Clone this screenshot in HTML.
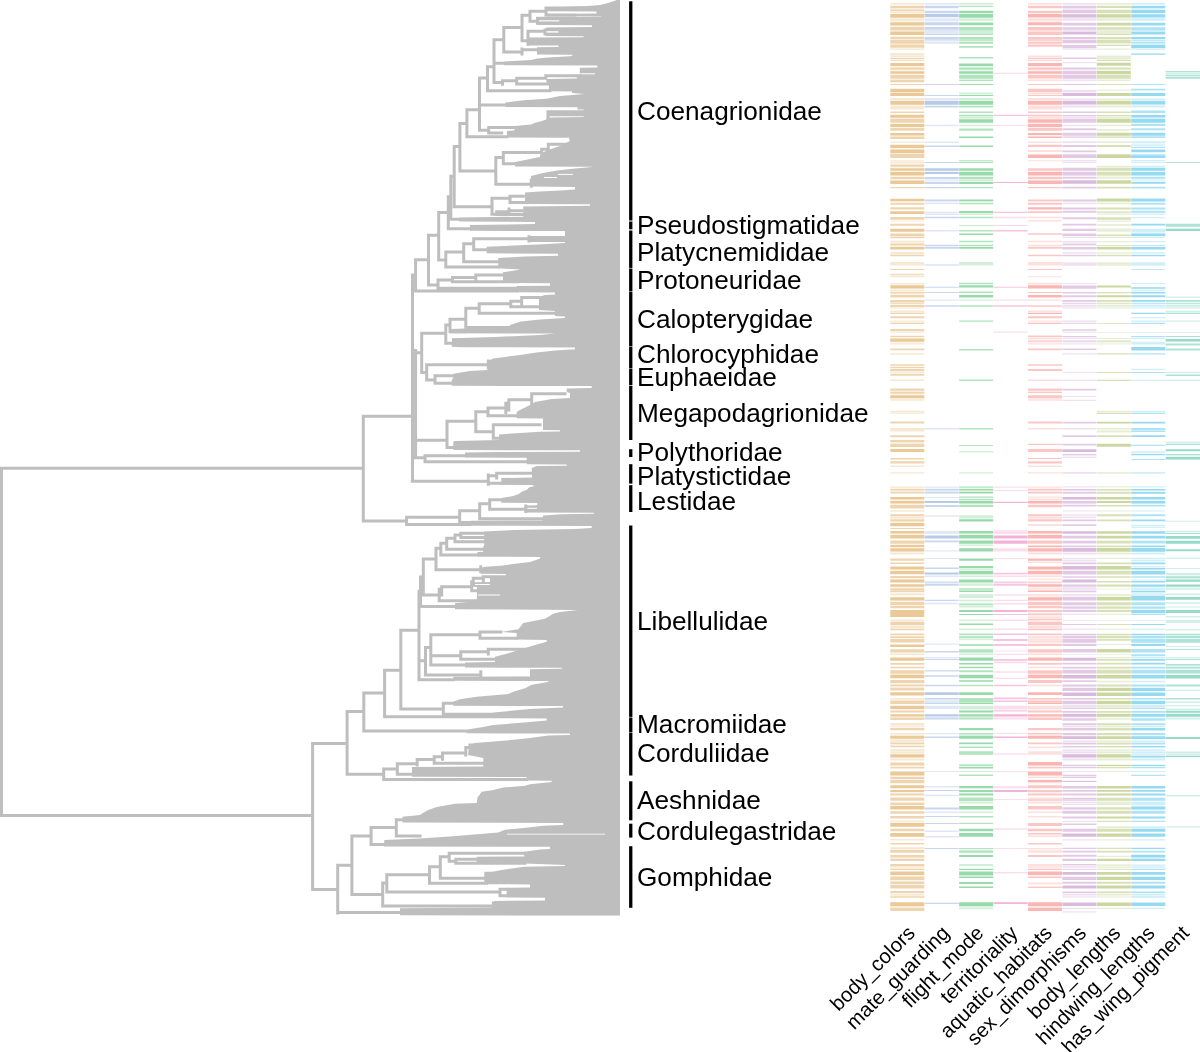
<!DOCTYPE html><html><head><meta charset="utf-8"><style>html,body{margin:0;padding:0;background:#fff;}svg{display:block;}text{font-family:"Liberation Sans",sans-serif;}</style></head><body><svg width="1200" height="1052" viewBox="0 0 1200 1052"><rect width="1200" height="1052" fill="#fff"/><polygon points="620,0 617,0 608,3 600,5 588,6 582,6.3 546,7.5 546,11.2 596.5,11.4 596.5,13.6 575,13.8 575,16.2 601,16.4 601,17.5 537.5,17.8 537.5,25 592,25.3 592,27 546,27.5 546,36 583.6,36.2 583.6,37.2 527.4,37.4 527.4,45.4 558.5,45.6 558.5,47.1 537,47.3 537,54.6 572.2,54.8 572.2,55.9 566,56.5 548,57.4 537.3,58.5 531.2,60 503.8,61.6 503.8,65.3 597.3,65.5 597.3,67.6 579.8,67.8 579.8,75.2 546.4,75.4 546.4,76.5 576.8,77 576.8,78.6 546.4,79 546.4,85.1 549,85.3 549,91.2 572,91.4 572,93 584.4,94 560,96 546.4,98.8 523.6,100.3 517.5,101 505.3,102.6 505.3,107.1 577.5,107.3 577.5,109.4 583.6,109.6 583.6,117 549.4,117.5 547.9,118.5 544.9,120.1 540.3,121.6 534.2,123.1 531.2,124.6 514.5,126.1 514.5,130.5 506.9,131 506.9,137.5 569.2,137.7 569.2,139.2 570,141 560,146 548,150 541.7,153 540,157 515,162 515,166.5 591.7,166.7 592,167 575,168.5 557,170.5 543,173 531,176 531,186.5 575,187 575,189.5 560,190.5 540,191.5 525,192.5 525,204 590,204.2 590,205.8 523.3,206.5 523.3,216.7 459.2,217.5 459.2,221.5 535,222 535,224 470,225 470,230.8 565,231 565,243 543,244.2 486.7,246.7 486.7,253.3 558,253.7 558,255.8 525,256.5 498.3,258 498.3,268.3 520,269.5 518,270 503,272.2 503,280.8 518,281.2 518,283 550,283.3 550,285.8 516.7,286 516.7,292.3 555,292.5 555,294.5 545,295 539,297 539,310 555,311 555,316 565,316.5 565,318 540,319.5 521,321.5 510,325 510,327 465.8,327.3 465.8,328.5 450,329 450,333.3 555,333.5 540,335 495,337 452,338.3 451.7,346.7 460,347.2 575,347.5 575,349.2 555,350.5 536.7,352.5 520,355 505,357 493,358.5 488.3,361 488.3,370 470,371 453.3,373.7 453.3,378.3 451.7,380 451.7,385.8 591.7,386 591.7,388 566.7,388.5 566.7,392 570,393 570,398 551.7,399 535,402 530,405 520,410 516.7,412 516.7,418.3 543,418.5 543,430 560,430.3 560,431.5 540,431.7 520,433 499,434.5 499,440 455,441 453.3,441.7 453.3,450 580,450.3 580,451.8 500,452 465,452.5 465,457.5 526.7,457.8 526.7,464.2 566.7,464.5 566.7,465.8 536.7,466 531.7,468 532,477.5 501.3,478 501.3,484.7 532,485 534.7,486 529.3,487.3 526.7,490 522.7,491.3 518.7,494 513.3,496 501.3,498 501.3,502.7 537.3,503 537.3,505.3 525.3,505.6 525.3,512.5 594,512.7 594,513.8 561.7,514.3 543.3,515.5 542.7,517 542.7,520.5 470.7,520.7 470.7,525.8 591.7,526 591.7,528 575,529 515,530 484.2,531.5 484.2,545.8 483.3,546 483.3,551.7 477.5,552 477.5,556.7 540,557 540,558.5 536,560 530,562 513,564 503,565.5 483,567 481,570 481,573.8 506,574 506,576.6 490,577 490,582 473.3,582.2 473.3,586.7 477,587 477,600 478.3,601 455,603.3 455,609.2 550,609.7 578,610 560,612 553.3,613.7 545,618.7 523.3,623 518.3,629.2 500.8,632 516.7,633 516.7,639.5 546.7,640 546.7,641.7 535,645 508.3,653.3 495,656.7 495,662 465,662.5 465,667.5 561.7,667.8 561.7,668.7 530,669.2 530,676.5 453.3,676.7 453.3,680.8 548.3,681 548.3,682 531.7,684.7 525,688.3 513.3,691.7 508.3,694 476.7,696.7 460,699.2 453.3,701.7 453.3,705.8 563,706 563,707.5 530,709 493.3,712.5 493.3,718.3 546.7,718.5 546.7,720.5 530,722 493.3,725 483.3,727 470,729 466.7,730 466.7,733.3 570,733.5 570,735 548.3,735.5 528.3,738.3 503.3,740.8 475,743 470,745 468,755 483.3,758 483.3,766.5 412,767 412,776.7 526.7,777 526.7,780.5 551.7,780.8 551.7,782 530,784.2 525,785.8 503.3,787.5 493.3,790 481.7,791.7 477.5,797.5 476.7,803 455,803.7 436.7,807 428.3,810 422.5,813.3 420,815 402.5,816.7 402.5,822.5 563.3,823 563.3,825 543.3,825.8 528.3,827.5 505,829.7 498.3,832.5 450,836.5 420,838.5 384.4,840 383.7,846.5 550,846.8 550,849 540,849.5 524.2,851.7 524.2,856.5 476.7,856.7 476.7,862.5 525,863.5 565,865 565,866 524.2,866.7 501.7,870 485.8,873.3 485.8,884.2 530,884.5 530,887.5 506.7,887.8 506.7,897.5 545,897.8 545,900.5 494,901 494,907.5 400,908.3 400,915.3 620,915.5 620,915.5" fill="#bebebe"/><path d="M546 31.9H558.5" stroke="#fff" stroke-width="1.4"/><path d="M538.8 20.9H559.3" stroke="#fff" stroke-width="1.3"/><path d="M580 73.8H595" stroke="#fff" stroke-width="1"/><path d="M558 174.4H573" stroke="#fff" stroke-width="1"/><path d="M544 177.5H557" stroke="#fff" stroke-width="1"/><path d="M478 590.5H505" stroke="#fff" stroke-width="1"/><path d="M478 595H500" stroke="#fff" stroke-width="1"/><path d="M475 584.5H490" stroke="#fff" stroke-width="1"/><path d="M507 834.2H605" stroke="#fff" stroke-width="0.8"/><path d="M527 508.3H537" stroke="#fff" stroke-width="1"/><path d="M1.5 468.2H363.3M1.5 815.5H312.6M1.5 468.2V815.5M363.3 416.2V520.9M363.3 416.2H412.3M363.3 520.9H406.6M406.6 517.2V524.5M406.6 517.2H459.7M406.6 524.5H470M459.7 510.8V522.5M459.7 510.8H479.7M479.7 503.7V518.7M479.7 503.7H489.7M489.7 499.7V509.2M489.7 499.7H500.8M489.7 509.2H525.8M525.8 506V511.5M479.7 518.7H543.3M459.7 522.5H470M412.5 275.1V481.3M415.6 350.6V457.7M412.3 481.3H488.3M488.3 475V484.2M488.3 475.8H496.7M496.7 473.3V478M496.7 473.3H531.7M488.3 483.3H531.7M415.2 457.7H425M425 455.8V461.7M425 455.8H465M425 461.7H526.7M415.8 440.2H446.7M447 421.3V447.5M447 447.5H455M447 421.3H475.8M475.8 411.7V431.7M475.8 411.7H488M488 408V415.8M488 408H505.8M505.8 403.3V412.5M505.8 403.3H508.8M508.8 399.7V410M508.8 399.7H531.7M531.7 393.7V406.7M531.7 393.7H565M531.7 406.7H551.7M488 415.8H525M475.8 431.7H493.3M493.3 424.7V438.3M493.3 424.7H540M493.3 438.3H499.2M415.6 352.8H421.7M421.7 333.3V372.5M421.7 333.3H445.8M445.8 325V343.3M445.8 325H450M450 319.2V331.7M450 319.2H465.8M465.8 308.3V327.5M465.8 308.3H479.2M479.2 303.7V313.3M479.2 303.7H510.8M510.8 301.3V306.7M510.8 301.3H521.7M521.7 297.5V303.7M521.7 297.5H539.2M510.8 306.7H545M479.2 313.3H555M465.8 327.5H510M450 331.7H465M445.8 343.3H451.7M421.7 372.5H426.7M426.7 364.7V380M426.7 364.7H488.3M488.3 361V368M426.7 380H435M435 375.8V383.3M435 375.8H453.3M435 383.3H451.7M415.6 259.8V291.1M412.5 275.1H415.6M415.6 259.8H428.5M415.6 291.1H516.7M428.5 235.3V285M428.5 285H438M438 280V288.3M438 280H452.5M452.5 277.5V281.7M452.5 277.5H475.8M475.8 275V279M475.8 275H503.3M452.5 281.7H518M438 288.3H516.7M428.5 235.3H438.7M438.7 212.5V260M438.7 212.5H448.3M448.3 196.7V228.7M448.3 196.7H450.8M448.3 228.7H470M450.8 176.3V219.2M450.8 176.6H454.2M450.8 219.2H459.2M454.2 146.6V206.8M454.2 146.6H459.9M454.2 206.8H492M492 198.3V214.2M492 198.3H510M510 196.3V202.5M510 196.3H523.3M510 202.5H525M492 214.2H496.7M496.7 211.7V214.2M496.7 211.7H509M509 210.7H525M496.7 214.5H525M509 209V213.3M438.7 260H445.8M445.8 252V267M445.8 252H463.7M463.7 243.7V261.7M463.7 243.7H473.7M473.7 238.7V249.7M473.7 238.7H529.2M529.2 236.7V241M473.7 249.7H486.7M463.7 261.7H498.3M445.8 267H498.3M459.9 123.6V171.1M459.9 123.6H466.9M459.9 171.1H495.8M495.8 157.5V184.2M495.8 157.5H503.3M503.3 152.5V163.7M503.3 152.5H541.7M541.7 149.2V157.5M541.7 149.2H548.3M548.3 144.2V150M548.3 144.2H570M541.7 157.5H545M503.3 163.7H515M495.8 184.2H531.3M531.3 180V186.3M466.9 109.8V136.8M466.9 109.8H479.5M466.9 136.8H507M479.5 78V130.3M479.5 105H504.2M479.5 130.3H488.7M488.7 127.5V133M488.7 127.5H515M488.7 133H501.7M479.5 78H487.5M487.5 66.7V90.8M487.5 90.8H550M487.5 66.7H494M494 39.7V82.5M494 82.5H502.5M502.5 80.8V84.2M502.5 80.8H516.7M516.7 78.3V84M516.7 78.3H545.8M516.7 84H560M545.8 75.8V78.3M545.8 75.8H580M494 63.3H502.5M494 39.7H503.8M503.8 27.5V52M503.8 52H522M522 49V54M522 49.7H536.7M503.8 27.5H522M522 15.3V40.8M522 40.8H528M528 31.3V44.2M528 31.3H545M545 30V34M522 15.3H530M530 11.3V21.3M530 21.3H537.5M537.5 18.7V23.3M537.5 23.3H559M530 11.3H546M546 8V15M546 8H581.7M546 15H575M312.6 743.5V889.4M312.6 743.5H347.1M347.1 711.5V774.3M347.1 711.5H363.8M363.8 693.1V731M363.8 693.1H384.6M384.6 670.3V716.7M384.6 670.3H400.8M400.8 630.3V709M400.8 630.3H419M419 591.3V679.8M420.5 577V606.6M423.3 559V595.1M420.5 577H423.3M419 591.5H420.5M420.5 606.6H455M423.3 559H436M436 548.3V569.7M436 548.3H440.8M440.8 543.3V555M440.8 543.3H446.7M446.7 538.3V549.2M446.7 538.3H455M455 535V541.7M455 535H460.8M460.8 533.3V537.5M460.8 533.3H484.2M460.8 537.5H484.2M455 541.7H485.8M446.7 549.2H483.3M440.8 555H477.5M436 569.7H480.8M480.8 566.7V571.7M423.3 595.1H439.2M439.2 589.2V600.8M439.2 589.2H441.7M441.7 586.7V595M441.7 586.7H471.7M471.7 581.7V590.8M471.7 581.7H473.3M473.3 578.3V585M473.3 578.3H483.3M483.3 576.7V581.7M483.3 576.7H505M471.7 590.8H506.7M439.2 600.8H478.3M478.3 598V603M419 660.8H425.5M425.5 647.5V675M425.5 647.5H430.8M430.8 634.7V665M430.8 634.7H480M480 632V638.3M480 632H500.8M480 638.3H516.7M430.8 655.8H460.8M460.8 651.7V659.2M460.8 651.7H488.3M488.3 649.2V654M488.3 649.2H535M460.8 659.2H495M430.8 665H465M425.5 675H480.8M480.8 671.7V676M419 679.8H453.3M400.8 709H443.3M443.3 703.3V714.2M443.3 703.3H453.3M443.3 714.2H493.3M384.6 716.7H493.3M363.8 731H466.7M347.1 774.3H383.7M383.7 769V779.5M383.7 769H397.3M397.3 763.8V774.3M397.3 763.8H417.2M417.2 759.6V765M417.2 759.6H434.2M434.2 756.7V763.3M434.2 756.7H442.5M442.5 753V759.2M442.5 753H465.8M465.8 747.5V755M465.8 747.5H470M470 745V752M470 745H503.3M434.2 763.3H483.3M397.3 774.3H412M383.7 779.5H526.7M312.6 889.4H337.7M337.7 865.3V913M337.7 912.5H400M337.7 865.3H351.9M351.9 836V894.6M351.9 836H371.1M371.1 827.6V844.4M371.1 827.6H396.3M396.3 819.7V836M396.3 819.7H402.5M396.3 836H420M371.1 844.4H383.7M351.9 894.6H382.7M382.7 883.1V906.1M382.7 883.1H386.8M386.8 874.7V892.1M386.8 874.7H429.5M429.5 866.7V883.3M429.5 866.7H440.3M440.3 856.7V878.3M440.3 856.7H449.2M449.2 853.3V861.3M449.2 853.3H524.2M449.2 861.3H455.8M455.8 859.2V863.3M455.8 859.2H476.7M455.8 863.3H525M440.3 878.3H485.8M485.8 873.3V883.3M485.8 873.3H501.7M429.5 883.3H486.7M386.8 892.1H500M500 889.2V895.8M500 889.2H506.7M500 895.8H506.7M382.7 906.1H493.3M493.3 903V907M493.3 903H545M548 111.7H583.6M549.4 114.7H583.6M548 111.7V118M537.5 18.2H600M529 237.6H566M529 240.6H566M529 236.7V241" stroke="#bebebe" stroke-width="3" fill="none" stroke-linecap="square"/><path d="M890.30 4.5h34.00v1.40h-34.00zM890.30 8.2h34.00v1.40h-34.00zM890.30 11.1h34.00v0.50h-34.00zM890.30 13h34.00v1.10h-34.00zM890.30 17.8h34.00v0.70h-34.00zM890.30 20.8h34.00v1.50h-34.00zM890.30 25.5h34.00v1.50h-34.00zM890.30 30.4h34.00v1.20h-34.00zM890.30 38.9h34.00v0.90h-34.00zM890.30 43.8h34.00v0.70h-34.00zM890.30 47.8h34.00v0.90h-34.00zM890.30 54.6h34.00v1.00h-34.00zM890.30 57.1h34.00v0.80h-34.00zM890.30 59h34.00v1.00h-34.00zM890.30 66h34.00v1.50h-34.00zM890.30 69.7h34.00v1.50h-34.00zM890.30 73.7h34.00v1.20h-34.00zM890.30 78.7h34.00v1.10h-34.00zM890.30 92.1h34.00v0.70h-34.00zM890.30 100.3h34.00v0.70h-34.00zM890.30 104.7h34.00v1.20h-34.00zM890.30 117.8h34.00v1.00h-34.00zM890.30 122.8h34.00v1.20h-34.00zM890.30 127h34.00v1.10h-34.00zM890.30 135.6h34.00v1.00h-34.00zM890.30 148h34.00v1.50h-34.00zM890.30 152.9h34.00v0.80h-34.00zM890.30 161.2h34.00v0.70h-34.00zM890.30 163.1h34.00v1.50h-34.00zM890.30 166.7h34.00v1.50h-34.00zM890.30 170.8h34.00v1.20h-34.00zM890.30 175.6h34.00v1.50h-34.00zM890.30 179h34.00v1.50h-34.00zM890.30 201.3h34.00v1.60h-34.00zM890.30 219.8h34.00v1.20h-34.00zM890.30 235.5h34.00v1.20h-34.00zM890.30 242.2h34.00v1.40h-34.00zM890.30 245.6h34.00v1.50h-34.00zM890.30 254h34.00v0.80h-34.00zM890.30 274.8h34.00v0.70h-34.00zM890.30 284.1h34.00v1.10h-34.00zM890.30 288.6h34.00v1.50h-34.00zM890.30 291.1h34.00v0.80h-34.00zM890.30 293.6h34.00v1.50h-34.00zM890.30 302h34.00v0.50h-34.00zM890.30 303.7h34.00v1.20h-34.00zM890.30 307h34.00v0.40h-34.00zM890.30 311.9h34.00v0.80h-34.00zM890.30 321.6h34.00v1.20h-34.00zM890.30 331h34.00v0.70h-34.00zM890.30 336.9h34.00v1.50h-34.00zM890.30 341.7h34.00v1.50h-34.00zM890.30 365.7h34.00v1.20h-34.00zM890.30 367.9h34.00v1.20h-34.00zM890.30 370.9h34.00v0.90h-34.00zM890.30 372.8h34.00v1.20h-34.00zM890.30 390.7h34.00v1.10h-34.00zM890.30 393.7h34.00v1.50h-34.00zM890.30 398.2h34.00v1.00h-34.00zM890.30 412h34.00v0.60h-34.00zM890.30 442.2h34.00v1.50h-34.00zM890.30 487.7h34.00v1.40h-34.00zM890.30 490.6h34.00v1.10h-34.00zM890.30 499.5h34.00v1.40h-34.00zM890.30 503.6h34.00v1.50h-34.00zM890.30 516.2h34.00v0.80h-34.00zM890.30 518.4h34.00v0.80h-34.00zM890.30 521.4h34.00v1.50h-34.00zM890.30 533.6h34.00v1.50h-34.00zM890.30 543.7h34.00v1.20h-34.00zM890.30 546.7h34.00v1.50h-34.00zM890.30 551.6h34.00v1.10h-34.00zM890.30 569.4h34.00v1.50h-34.00zM890.30 577.9h34.00v1.50h-34.00zM890.30 586.8h34.00v1.50h-34.00zM890.30 590.2h34.00v0.30h-34.00zM890.30 592h34.00v1.50h-34.00zM890.30 600.6h34.00v1.50h-34.00zM890.30 605.1h34.00v1.00h-34.00zM890.30 620.9h34.00v0.80h-34.00zM890.30 624.7h34.00v1.10h-34.00zM890.30 628.2h34.00v0.50h-34.00zM890.30 635.1h34.00v1.10h-34.00zM890.30 638.1h34.00v1.00h-34.00zM890.30 652.5h34.00v1.20h-34.00zM890.30 673.7h34.00v1.00h-34.00zM890.30 683.1h34.00v1.40h-34.00zM890.30 686.3h34.00v1.50h-34.00zM890.30 699.4h34.00v1.00h-34.00zM890.30 709.1h34.00v1.50h-34.00zM890.30 716.5h34.00v1.10h-34.00zM890.30 725h34.00v0.40h-34.00zM890.30 726.5h34.00v1.50h-34.00zM890.30 734.6h34.00v1.20h-34.00zM890.30 738.8h34.00v1.00h-34.00zM890.30 741.8h34.00v0.60h-34.00zM890.30 744.3h34.00v1.50h-34.00zM890.30 751.3h34.00v0.40h-34.00zM890.30 753.2h34.00v1.00h-34.00zM890.30 757.6h34.00v1.10h-34.00zM890.30 765.5h34.00v1.50h-34.00zM890.30 775.4h34.00v1.50h-34.00zM890.30 778.9h34.00v1.00h-34.00zM890.30 791.9h34.00v1.50h-34.00zM890.30 804.9h34.00v1.10h-34.00zM890.30 821.8h34.00v1.20h-34.00zM890.30 848.5h34.00v1.50h-34.00zM890.30 857.4h34.00v1.30h-34.00zM890.30 866.2h34.00v0.40h-34.00zM890.30 867.6h34.00v1.10h-34.00zM890.30 875.1h34.00v1.40h-34.00zM890.30 880h34.00v1.40h-34.00zM890.30 884h34.00v1.00h-34.00zM890.30 892.9h34.00v1.00h-34.00zM890.30 895.4h34.00v0.90h-34.00zM890.30 906.2h34.00v1.50h-34.00z" fill="#E9C794" fill-opacity="0.18"/><path d="M890.30 3h34.00v1.50h-34.00zM890.30 11.6h34.00v1.40h-34.00zM890.30 18.5h34.00v2.30h-34.00zM890.30 48.7h34.00v1.00h-34.00zM890.30 55.6h34.00v1.50h-34.00zM890.30 98h34.00v2.30h-34.00zM890.30 105.9h34.00v3.60h-34.00zM890.30 141.5h34.00v1.20h-34.00zM890.30 160.2h34.00v1.00h-34.00zM890.30 161.9h34.00v1.20h-34.00zM890.30 221h34.00v0.60h-34.00zM890.30 240.7h34.00v1.50h-34.00zM890.30 252.1h34.00v1.90h-34.00zM890.30 261.9h34.00v3.60h-34.00zM890.30 275.5h34.00v1.80h-34.00zM890.30 283h34.00v1.10h-34.00zM890.30 290.1h34.00v1.00h-34.00zM890.30 307.4h34.00v1.10h-34.00zM890.30 310.4h34.00v1.50h-34.00zM890.30 320.6h34.00v1.00h-34.00zM890.30 331.7h34.00v1.10h-34.00zM890.30 343.2h34.00v1.40h-34.00zM890.30 353.2h34.00v1.50h-34.00zM890.30 371.8h34.00v1.00h-34.00zM890.30 379.5h34.00v1.50h-34.00zM890.30 399.2h34.00v1.50h-34.00zM890.30 410.8h34.00v1.20h-34.00zM890.30 412.6h34.00v1.10h-34.00zM890.30 428h34.00v3.50h-34.00zM890.30 465.4h34.00v1.50h-34.00zM890.30 472.2h34.00v1.40h-34.00zM890.30 486.5h34.00v1.20h-34.00zM890.30 510.3h34.00v1.50h-34.00zM890.30 517h34.00v1.40h-34.00zM890.30 552.7h34.00v1.90h-34.00zM890.30 593.5h34.00v1.80h-34.00zM890.30 619.4h34.00v1.50h-34.00zM890.30 625.8h34.00v2.40h-34.00zM890.30 653.7h34.00v1.20h-34.00zM890.30 697.9h34.00v1.50h-34.00zM890.30 723.1h34.00v1.90h-34.00zM890.30 725.4h34.00v1.10h-34.00zM890.30 732.9h34.00v1.70h-34.00zM890.30 739.8h34.00v2.00h-34.00zM890.30 749.2h34.00v2.10h-34.00zM890.30 751.7h34.00v1.50h-34.00zM890.30 758.7h34.00v1.90h-34.00zM890.30 820.4h34.00v1.40h-34.00zM890.30 839.1h34.00v1.40h-34.00zM890.30 866.6h34.00v1.00h-34.00zM890.30 893.9h34.00v1.50h-34.00z" fill="#E9C794" fill-opacity="0.42"/><path d="M890.30 5.9h34.00v2.30h-34.00zM890.30 9.6h34.00v1.50h-34.00zM890.30 27h34.00v3.40h-34.00zM890.30 36.8h34.00v2.10h-34.00zM890.30 39.8h34.00v4.00h-34.00zM890.30 44.5h34.00v3.30h-34.00zM890.30 53.4h34.00v1.20h-34.00zM890.30 57.9h34.00v1.10h-34.00zM890.30 60h34.00v0.80h-34.00zM890.30 67.5h34.00v2.20h-34.00zM890.30 74.9h34.00v3.70h-34.00zM890.30 78h34.00v0.70h-34.00zM890.30 79.8h34.00v2.40h-34.00zM890.30 83.9h34.00v1.20h-34.00zM890.30 111.4h34.00v1.50h-34.00zM890.30 118.8h34.00v4.00h-34.00zM890.30 128.1h34.00v2.60h-34.00zM890.30 136.6h34.00v2.50h-34.00zM890.30 153.7h34.00v4.30h-34.00zM890.30 156h34.00v1.80h-34.00zM890.30 164.6h34.00v2.10h-34.00zM890.30 177.1h34.00v1.90h-34.00zM890.30 186.9h34.00v1.40h-34.00zM890.30 202.9h34.00v1.80h-34.00zM890.30 207.3h34.00v2.10h-34.00zM890.30 217.1h34.00v2.70h-34.00zM890.30 223.7h34.00v2.00h-34.00zM890.30 233.4h34.00v2.60h-34.00zM890.30 234h34.00v1.50h-34.00zM890.30 236.7h34.00v1.50h-34.00zM890.30 243.6h34.00v2.00h-34.00zM890.30 254.8h34.00v1.50h-34.00zM890.30 268.9h34.00v1.00h-34.00zM890.30 273.8h34.00v1.00h-34.00zM890.30 291.9h34.00v1.70h-34.00zM890.30 295.1h34.00v2.40h-34.00zM890.30 300h34.00v2.00h-34.00zM890.30 302.5h34.00v1.20h-34.00zM890.30 304.9h34.00v2.10h-34.00zM890.30 312.9h34.00v1.10h-34.00zM890.30 312.7h34.00v1.10h-34.00zM890.30 316.2h34.00v2.00h-34.00zM890.30 322.8h34.00v1.10h-34.00zM890.30 329.1h34.00v1.90h-34.00zM890.30 335.7h34.00v1.20h-34.00zM890.30 348.4h34.00v1.90h-34.00zM890.30 364.2h34.00v1.50h-34.00zM890.30 366.9h34.00v1.00h-34.00zM890.30 369.1h34.00v1.80h-34.00zM890.30 374h34.00v1.80h-34.00zM890.30 388.4h34.00v2.20h-34.00zM890.30 390h34.00v0.70h-34.00zM890.30 391.8h34.00v1.90h-34.00zM890.30 421.5h34.00v1.90h-34.00zM890.30 435.3h34.00v1.90h-34.00zM890.30 440.1h34.00v2.10h-34.00zM890.30 443.7h34.00v3.40h-34.00zM890.30 458h34.00v1.40h-34.00zM890.30 461.2h34.00v2.20h-34.00zM890.30 489.1h34.00v1.50h-34.00zM890.30 491.7h34.00v1.80h-34.00zM890.30 505.1h34.00v3.30h-34.00zM890.30 514.3h34.00v1.90h-34.00zM890.30 519.2h34.00v2.20h-34.00zM890.30 528.1h34.00v1.00h-34.00zM890.30 540.4h34.00v3.30h-34.00zM890.30 558.6h34.00v2.20h-34.00zM890.30 562.6h34.00v1.50h-34.00zM890.30 576h34.00v1.90h-34.00zM890.30 588.3h34.00v1.90h-34.00zM890.30 590.5h34.00v1.50h-34.00zM890.30 602.1h34.00v3.00h-34.00zM890.30 606.1h34.00v2.20h-34.00zM890.30 621.7h34.00v3.20h-34.00zM890.30 624h34.00v0.70h-34.00zM890.30 628.7h34.00v1.50h-34.00zM890.30 633.6h34.00v1.50h-34.00zM890.30 636.2h34.00v1.90h-34.00zM890.30 639.1h34.00v3.40h-34.00zM890.30 649.2h34.00v3.30h-34.00zM890.30 662.9h34.00v1.90h-34.00zM890.30 666.7h34.00v1.50h-34.00zM890.30 670.3h34.00v3.40h-34.00zM890.30 680.1h34.00v3.00h-34.00zM890.30 684.5h34.00v1.80h-34.00zM890.30 687.8h34.00v2.70h-34.00zM890.30 700.4h34.00v3.60h-34.00zM890.30 702h34.00v1.80h-34.00zM890.30 710.6h34.00v1.80h-34.00zM890.30 717.6h34.00v2.50h-34.00zM890.30 728h34.00v2.20h-34.00zM890.30 742.4h34.00v1.90h-34.00zM890.30 745.8h34.00v1.50h-34.00zM890.30 762.5h34.00v3.00h-34.00zM890.30 767h34.00v1.50h-34.00zM890.30 776.9h34.00v2.00h-34.00zM890.30 779.9h34.00v2.10h-34.00zM890.30 780h34.00v3.30h-34.00zM890.30 793.4h34.00v2.20h-34.00zM890.30 797.5h34.00v3.30h-34.00zM890.30 802.6h34.00v2.30h-34.00zM890.30 811.2h34.00v2.60h-34.00zM890.30 815.9h34.00v2.70h-34.00zM890.30 828.7h34.00v2.50h-34.00zM890.30 843.1h34.00v1.40h-34.00zM890.30 847.5h34.00v1.00h-34.00zM890.30 850h34.00v2.70h-34.00zM890.30 854.9h34.00v2.50h-34.00zM890.30 858.9h34.00v1.10h-34.00zM890.30 858.7h34.00v2.30h-34.00zM890.30 863.9h34.00v2.30h-34.00zM890.30 868.7h34.00v1.20h-34.00zM890.30 876.5h34.00v3.50h-34.00zM890.30 881.4h34.00v2.60h-34.00zM890.30 885h34.00v3.40h-34.00zM890.30 891h34.00v1.90h-34.00zM890.30 896.3h34.00v1.50h-34.00zM890.30 907.7h34.00v3.40h-34.00z" fill="#E9C794" fill-opacity="0.75"/><path d="M890.30 14.1h34.00v3.70h-34.00zM890.30 22.3h34.00v3.20h-34.00zM890.30 31.6h34.00v3.30h-34.00zM890.30 63h34.00v3.00h-34.00zM890.30 71.2h34.00v2.50h-34.00zM890.30 88.7h34.00v3.40h-34.00zM890.30 92.8h34.00v3.30h-34.00zM890.30 101h34.00v3.70h-34.00zM890.30 114.8h34.00v3.00h-34.00zM890.30 124h34.00v3.00h-34.00zM890.30 132.9h34.00v2.70h-34.00zM890.30 144.8h34.00v3.20h-34.00zM890.30 149.5h34.00v3.40h-34.00zM890.30 168.2h34.00v2.60h-34.00zM890.30 172h34.00v3.60h-34.00zM890.30 180.5h34.00v3.40h-34.00zM890.30 198.7h34.00v2.60h-34.00zM890.30 211.2h34.00v2.70h-34.00zM890.30 228.7h34.00v3.00h-34.00zM890.30 247.1h34.00v2.50h-34.00zM890.30 285.2h34.00v3.40h-34.00zM890.30 338.4h34.00v3.30h-34.00zM890.30 395.2h34.00v3.00h-34.00zM890.30 449h34.00v3.00h-34.00zM890.30 496.9h34.00v2.60h-34.00zM890.30 500.9h34.00v2.70h-34.00zM890.30 522.9h34.00v3.30h-34.00zM890.30 531.1h34.00v2.50h-34.00zM890.30 535.1h34.00v3.40h-34.00zM890.30 544.9h34.00v2.00h-34.00zM890.30 546h34.00v0.70h-34.00zM890.30 548.2h34.00v3.40h-34.00zM890.30 566.5h34.00v2.90h-34.00zM890.30 570.9h34.00v3.30h-34.00zM890.30 579.4h34.00v3.00h-34.00zM890.30 584.3h34.00v2.50h-34.00zM890.30 597.2h34.00v3.40h-34.00zM890.30 610.1h34.00v6.80h-34.00zM890.30 644.5h34.00v2.50h-34.00zM890.30 657.4h34.00v3.40h-34.00zM890.30 674.7h34.00v3.50h-34.00zM890.30 692.2h34.00v3.30h-34.00zM890.30 705.7h34.00v3.40h-34.00zM890.30 714.2h34.00v2.30h-34.00zM890.30 735.8h34.00v3.00h-34.00zM890.30 754.2h34.00v3.40h-34.00zM890.30 771.4h34.00v4.00h-34.00zM890.30 785.2h34.00v3.00h-34.00zM890.30 790.1h34.00v1.80h-34.00zM890.30 806h34.00v3.40h-34.00zM890.30 823h34.00v3.70h-34.00zM890.30 833.1h34.00v3.60h-34.00zM890.30 871.6h34.00v3.50h-34.00zM890.30 902.2h34.00v4.00h-34.00z" fill="#E9C794" fill-opacity="0.97"/><path d="M924.72 4.5h34.00v1.40h-34.00zM924.72 13h34.00v1.10h-34.00zM924.72 17h34.00v1.50h-34.00zM924.72 20.8h34.00v1.50h-34.00zM924.72 29.7h34.00v0.40h-34.00zM924.72 33.4h34.00v0.40h-34.00zM924.72 38.9h34.00v0.40h-34.00zM924.72 40.5h34.00v1.30h-34.00zM924.72 100.3h34.00v0.70h-34.00zM924.72 104.7h34.00v1.20h-34.00zM924.72 170.8h34.00v1.20h-34.00zM924.72 179h34.00v0.70h-34.00zM924.72 180.6h34.00v1.40h-34.00zM924.72 201.3h34.00v1.60h-34.00zM924.72 213.3h34.00v0.60h-34.00zM924.72 245.9h34.00v1.20h-34.00zM924.72 487.7h34.00v1.40h-34.00zM924.72 490.6h34.00v1.10h-34.00zM924.72 532.1h34.00v0.40h-34.00zM924.72 574.5h34.00v1.20h-34.00zM924.72 582.8h34.00v1.00h-34.00zM924.72 658.1h34.00v0.80h-34.00zM924.72 699.4h34.00v1.00h-34.00zM924.72 701.9h34.00v0.70h-34.00zM924.72 716.5h34.00v1.10h-34.00z" fill="#B5C9E8" fill-opacity="0.18"/><path d="M924.72 3h34.00v1.50h-34.00zM924.72 18.5h34.00v2.30h-34.00zM924.72 30.1h34.00v3.30h-34.00zM924.72 41.8h34.00v2.00h-34.00zM924.72 98h34.00v2.30h-34.00zM924.72 124.7h34.00v1.50h-34.00zM924.72 141.5h34.00v1.50h-34.00zM924.72 179.7h34.00v0.90h-34.00zM924.72 202.9h34.00v1.30h-34.00zM924.72 211.8h34.00v1.50h-34.00zM924.72 213.9h34.00v1.10h-34.00zM924.72 229.9h34.00v1.50h-34.00zM924.72 299.6h34.00v1.20h-34.00zM924.72 428h34.00v1.50h-34.00zM924.72 486.5h34.00v1.20h-34.00zM924.72 496.9h34.00v1.10h-34.00zM924.72 515.2h34.00v1.50h-34.00zM924.72 531.1h34.00v1.00h-34.00zM924.72 550.2h34.00v1.40h-34.00zM924.72 557.9h34.00v1.20h-34.00zM924.72 575.7h34.00v1.20h-34.00zM924.72 602.7h34.00v1.50h-34.00zM924.72 643.6h34.00v1.20h-34.00zM924.72 656.9h34.00v1.20h-34.00zM924.72 700.4h34.00v1.50h-34.00zM924.72 705.7h34.00v3.40h-34.00zM924.72 732.9h34.00v1.40h-34.00zM924.72 771h34.00v1.00h-34.00zM924.72 785.9h34.00v1.50h-34.00zM924.72 794.8h34.00v1.50h-34.00zM924.72 811.5h34.00v1.40h-34.00zM924.72 830.4h34.00v1.50h-34.00zM924.72 836.1h34.00v1.50h-34.00z" fill="#B5C9E8" fill-opacity="0.42"/><path d="M924.72 5.9h34.00v2.30h-34.00zM924.72 10.7h34.00v2.30h-34.00zM924.72 22.3h34.00v2.90h-34.00zM924.72 27h34.00v2.70h-34.00zM924.72 33.8h34.00v1.10h-34.00zM924.72 37.1h34.00v1.80h-34.00zM924.72 39.3h34.00v1.20h-34.00zM924.72 83.9h34.00v1.20h-34.00zM924.72 95h34.00v1.10h-34.00zM924.72 105.9h34.00v1.50h-34.00zM924.72 145.5h34.00v1.50h-34.00zM924.72 161.9h34.00v1.20h-34.00zM924.72 177.1h34.00v1.90h-34.00zM924.72 182h34.00v1.90h-34.00zM924.72 186.9h34.00v1.40h-34.00zM924.72 199.5h34.00v1.80h-34.00zM924.72 216.8h34.00v1.50h-34.00zM924.72 244.7h34.00v1.20h-34.00zM924.72 247.1h34.00v1.70h-34.00zM924.72 264.4h34.00v1.20h-34.00zM924.72 286.7h34.00v1.00h-34.00zM924.72 291.9h34.00v1.10h-34.00zM924.72 305.2h34.00v1.50h-34.00zM924.72 489.1h34.00v1.50h-34.00zM924.72 491.7h34.00v1.80h-34.00zM924.72 505.1h34.00v1.80h-34.00zM924.72 532.5h34.00v1.10h-34.00zM924.72 540.4h34.00v1.80h-34.00zM924.72 567.5h34.00v1.50h-34.00zM924.72 581.6h34.00v1.20h-34.00zM924.72 583.8h34.00v2.00h-34.00zM924.72 599.7h34.00v1.20h-34.00zM924.72 651h34.00v1.50h-34.00zM924.72 658.9h34.00v1.00h-34.00zM924.72 670.3h34.00v1.20h-34.00zM924.72 675.2h34.00v1.50h-34.00zM924.72 684.8h34.00v1.50h-34.00zM924.72 697.9h34.00v1.50h-34.00zM924.72 702.6h34.00v1.40h-34.00zM924.72 702.7h34.00v1.10h-34.00zM924.72 717.6h34.00v1.90h-34.00zM924.72 736.4h34.00v1.50h-34.00zM924.72 790.1h34.00v1.00h-34.00zM924.72 807.4h34.00v2.00h-34.00zM924.72 815.9h34.00v1.20h-34.00zM924.72 823h34.00v0.90h-34.00zM924.72 848h34.00v1.00h-34.00zM924.72 902.8h34.00v1.20h-34.00z" fill="#B5C9E8" fill-opacity="0.75"/><path d="M924.72 14.1h34.00v2.90h-34.00zM924.72 101h34.00v3.70h-34.00zM924.72 168.2h34.00v2.60h-34.00zM924.72 172h34.00v2.10h-34.00zM924.72 500.9h34.00v2.00h-34.00zM924.72 535.5h34.00v3.00h-34.00zM924.72 572.4h34.00v2.10h-34.00zM924.72 692.2h34.00v2.70h-34.00zM924.72 714.2h34.00v2.30h-34.00z" fill="#B5C9E8" fill-opacity="0.97"/><path d="M959.14 4.5h34.00v1.40h-34.00zM959.14 13h34.00v1.10h-34.00zM959.14 17.8h34.00v0.70h-34.00zM959.14 38.9h34.00v0.40h-34.00zM959.14 40.8h34.00v1.00h-34.00zM959.14 66h34.00v1.50h-34.00zM959.14 69.7h34.00v1.50h-34.00zM959.14 73.7h34.00v1.20h-34.00zM959.14 78.7h34.00v1.10h-34.00zM959.14 93.9h34.00v1.10h-34.00zM959.14 100.3h34.00v0.70h-34.00zM959.14 104.7h34.00v1.20h-34.00zM959.14 116.3h34.00v0.60h-34.00zM959.14 118.4h34.00v0.80h-34.00zM959.14 161.2h34.00v0.70h-34.00zM959.14 170.8h34.00v1.20h-34.00zM959.14 175.6h34.00v1.50h-34.00zM959.14 179h34.00v0.70h-34.00zM959.14 180.6h34.00v1.40h-34.00zM959.14 201.3h34.00v1.60h-34.00zM959.14 213.1h34.00v0.50h-34.00zM959.14 245.9h34.00v1.20h-34.00zM959.14 284.1h34.00v1.10h-34.00zM959.14 487.7h34.00v1.40h-34.00zM959.14 490.6h34.00v1.10h-34.00zM959.14 497.7h34.00v1.20h-34.00zM959.14 500.3h34.00v0.60h-34.00zM959.14 503.6h34.00v1.50h-34.00zM959.14 518.1h34.00v1.10h-34.00zM959.14 533.6h34.00v1.50h-34.00zM959.14 543.7h34.00v1.20h-34.00zM959.14 568h34.00v0.60h-34.00zM959.14 569.7h34.00v1.20h-34.00zM959.14 574.2h34.00v1.50h-34.00zM959.14 582.4h34.00v1.40h-34.00zM959.14 589.8h34.00v0.70h-34.00zM959.14 605.1h34.00v0.50h-34.00zM959.14 635.1h34.00v1.10h-34.00zM959.14 638.1h34.00v0.70h-34.00zM959.14 652.5h34.00v1.20h-34.00zM959.14 701.9h34.00v0.70h-34.00zM959.14 709.1h34.00v1.50h-34.00zM959.14 716.5h34.00v1.10h-34.00zM959.14 734.6h34.00v1.20h-34.00zM959.14 765.8h34.00v1.20h-34.00zM959.14 791.9h34.00v1.50h-34.00zM959.14 799h34.00v0.30h-34.00zM959.14 800.8h34.00v1.20h-34.00zM959.14 849h34.00v1.50h-34.00zM959.14 876.1h34.00v0.40h-34.00zM959.14 906.2h34.00v1.50h-34.00z" fill="#96D9A8" fill-opacity="0.18"/><path d="M959.14 3h34.00v1.50h-34.00zM959.14 18.5h34.00v2.30h-34.00zM959.14 30.4h34.00v3.40h-34.00zM959.14 92.5h34.00v1.40h-34.00zM959.14 98h34.00v2.30h-34.00zM959.14 116.9h34.00v1.50h-34.00zM959.14 124.7h34.00v1.50h-34.00zM959.14 213.6h34.00v1.40h-34.00zM959.14 261.9h34.00v3.60h-34.00zM959.14 299.6h34.00v1.20h-34.00zM959.14 451.1h34.00v1.50h-34.00zM959.14 472.2h34.00v1.40h-34.00zM959.14 515.2h34.00v2.90h-34.00zM959.14 544.9h34.00v1.00h-34.00zM959.14 568.6h34.00v1.10h-34.00zM959.14 575.7h34.00v1.20h-34.00zM959.14 583.8h34.00v2.00h-34.00zM959.14 594.2h34.00v3.70h-34.00zM959.14 599.7h34.00v1.50h-34.00zM959.14 605.6h34.00v2.00h-34.00zM959.14 619.4h34.00v1.50h-34.00zM959.14 628.5h34.00v1.40h-34.00zM959.14 638.8h34.00v1.50h-34.00zM959.14 653.7h34.00v1.20h-34.00zM959.14 705.7h34.00v3.40h-34.00zM959.14 771h34.00v1.00h-34.00zM959.14 802h34.00v1.40h-34.00zM959.14 811.5h34.00v1.40h-34.00zM959.14 863.9h34.00v2.30h-34.00zM959.14 875.1h34.00v1.00h-34.00zM959.14 907.7h34.00v1.50h-34.00z" fill="#96D9A8" fill-opacity="0.42"/><path d="M959.14 5.9h34.00v1.20h-34.00zM959.14 27h34.00v3.40h-34.00zM959.14 33.8h34.00v1.10h-34.00zM959.14 37.1h34.00v1.80h-34.00zM959.14 39.3h34.00v1.50h-34.00zM959.14 41.8h34.00v2.00h-34.00zM959.14 46h34.00v1.80h-34.00zM959.14 57.1h34.00v1.50h-34.00zM959.14 67.5h34.00v2.20h-34.00zM959.14 74.9h34.00v3.70h-34.00zM959.14 78h34.00v0.70h-34.00zM959.14 79.8h34.00v1.20h-34.00zM959.14 105.9h34.00v1.50h-34.00zM959.14 111.4h34.00v1.50h-34.00zM959.14 114.8h34.00v1.50h-34.00zM959.14 128.4h34.00v2.30h-34.00zM959.14 160.2h34.00v1.00h-34.00zM959.14 161.9h34.00v1.20h-34.00zM959.14 177.1h34.00v1.90h-34.00zM959.14 179.7h34.00v0.90h-34.00zM959.14 186.9h34.00v1.40h-34.00zM959.14 202.9h34.00v1.30h-34.00zM959.14 216.8h34.00v1.50h-34.00zM959.14 225h34.00v0.70h-34.00zM959.14 229.9h34.00v1.50h-34.00zM959.14 240.7h34.00v1.50h-34.00zM959.14 244.7h34.00v1.20h-34.00zM959.14 282.7h34.00v1.40h-34.00zM959.14 291.6h34.00v1.40h-34.00zM959.14 305.2h34.00v1.50h-34.00zM959.14 320.5h34.00v1.30h-34.00zM959.14 349.1h34.00v1.50h-34.00zM959.14 379.5h34.00v1.50h-34.00zM959.14 428h34.00v1.50h-34.00zM959.14 444.9h34.00v1.20h-34.00zM959.14 486.5h34.00v1.20h-34.00zM959.14 496.5h34.00v1.20h-34.00zM959.14 498.9h34.00v1.40h-34.00zM959.14 505.1h34.00v1.80h-34.00zM959.14 588.3h34.00v1.50h-34.00zM959.14 603.6h34.00v1.50h-34.00zM959.14 633.6h34.00v1.50h-34.00zM959.14 636.2h34.00v1.90h-34.00zM959.14 644h34.00v2.00h-34.00zM959.14 649.2h34.00v3.30h-34.00zM959.14 670.3h34.00v1.90h-34.00zM959.14 680.1h34.00v1.80h-34.00zM959.14 684.8h34.00v1.50h-34.00zM959.14 697.9h34.00v4.00h-34.00zM959.14 717.6h34.00v1.90h-34.00zM959.14 732.9h34.00v1.70h-34.00zM959.14 746.5h34.00v1.50h-34.00zM959.14 751.3h34.00v3.40h-34.00zM959.14 774.4h34.00v1.50h-34.00zM959.14 797.5h34.00v1.50h-34.00zM959.14 815.9h34.00v1.50h-34.00zM959.14 822.7h34.00v1.20h-34.00zM959.14 848h34.00v1.00h-34.00zM959.14 850.5h34.00v2.20h-34.00z" fill="#96D9A8" fill-opacity="0.75"/><path d="M959.14 10.7h34.00v2.30h-34.00zM959.14 14.1h34.00v3.70h-34.00zM959.14 22.6h34.00v2.60h-34.00zM959.14 63.5h34.00v2.50h-34.00zM959.14 71.2h34.00v2.50h-34.00zM959.14 83.9h34.00v1.20h-34.00zM959.14 95h34.00v1.10h-34.00zM959.14 101h34.00v3.70h-34.00zM959.14 119.2h34.00v3.60h-34.00zM959.14 136.6h34.00v1.50h-34.00zM959.14 145.5h34.00v1.50h-34.00zM959.14 168.2h34.00v2.60h-34.00zM959.14 172h34.00v3.60h-34.00zM959.14 182h34.00v1.90h-34.00zM959.14 199.5h34.00v1.80h-34.00zM959.14 210.9h34.00v2.20h-34.00zM959.14 233.4h34.00v1.50h-34.00zM959.14 234h34.00v0.70h-34.00zM959.14 247.1h34.00v1.70h-34.00zM959.14 285.2h34.00v2.20h-34.00zM959.14 295.1h34.00v2.40h-34.00zM959.14 489.1h34.00v1.50h-34.00zM959.14 491.7h34.00v1.80h-34.00zM959.14 500.9h34.00v2.70h-34.00zM959.14 519.2h34.00v2.20h-34.00zM959.14 531.1h34.00v2.50h-34.00zM959.14 535.1h34.00v3.40h-34.00zM959.14 540.4h34.00v3.30h-34.00zM959.14 548.2h34.00v3.40h-34.00zM959.14 558.6h34.00v2.20h-34.00zM959.14 566h34.00v2.00h-34.00zM959.14 570.9h34.00v3.30h-34.00zM959.14 579.4h34.00v3.00h-34.00zM959.14 590.5h34.00v1.50h-34.00zM959.14 610.1h34.00v1.90h-34.00zM959.14 614h34.00v1.00h-34.00zM959.14 623.4h34.00v1.50h-34.00zM959.14 624h34.00v0.70h-34.00zM959.14 657.4h34.00v3.40h-34.00zM959.14 662.9h34.00v1.50h-34.00zM959.14 666.7h34.00v1.50h-34.00zM959.14 674.7h34.00v3.50h-34.00zM959.14 692.2h34.00v2.70h-34.00zM959.14 702.6h34.00v1.40h-34.00zM959.14 702.7h34.00v1.10h-34.00zM959.14 710.6h34.00v1.80h-34.00zM959.14 714.2h34.00v2.30h-34.00zM959.14 728h34.00v2.20h-34.00zM959.14 735.8h34.00v3.00h-34.00zM959.14 742.4h34.00v1.90h-34.00zM959.14 764.6h34.00v1.20h-34.00zM959.14 767h34.00v1.50h-34.00zM959.14 785.9h34.00v2.30h-34.00zM959.14 790.1h34.00v1.80h-34.00zM959.14 793.4h34.00v2.20h-34.00zM959.14 799.3h34.00v1.50h-34.00zM959.14 806h34.00v3.40h-34.00zM959.14 828.7h34.00v2.50h-34.00zM959.14 833.1h34.00v3.60h-34.00zM959.14 854.9h34.00v2.00h-34.00zM959.14 868.7h34.00v1.20h-34.00zM959.14 871.6h34.00v3.50h-34.00zM959.14 876.5h34.00v1.50h-34.00zM959.14 882h34.00v2.00h-34.00zM959.14 886.5h34.00v1.50h-34.00zM959.14 902.2h34.00v4.00h-34.00z" fill="#96D9A8" fill-opacity="0.97"/><path d="M993.56 531.8h34.00v0.70h-34.00zM993.56 574.2h34.00v1.50h-34.00zM993.56 582.8h34.00v1.00h-34.00zM993.56 660.8h34.00v1.00h-34.00zM993.56 698.9h34.00v1.50h-34.00zM993.56 709.1h34.00v1.10h-34.00zM993.56 716.5h34.00v1.10h-34.00z" fill="#F3B0D6" fill-opacity="0.18"/><path d="M993.56 72.7h34.00v1.20h-34.00zM993.56 124.9h34.00v1.20h-34.00zM993.56 216.8h34.00v1.50h-34.00zM993.56 299.6h34.00v1.20h-34.00zM993.56 331.6h34.00v1.20h-34.00zM993.56 486.5h34.00v1.20h-34.00zM993.56 490h34.00v1.00h-34.00zM993.56 530.3h34.00v1.50h-34.00zM993.56 548.2h34.00v3.40h-34.00zM993.56 557.9h34.00v1.20h-34.00zM993.56 575.7h34.00v1.20h-34.00zM993.56 594.2h34.00v1.50h-34.00zM993.56 599.7h34.00v1.20h-34.00zM993.56 603.1h34.00v1.50h-34.00zM993.56 619.4h34.00v1.50h-34.00zM993.56 628.5h34.00v1.40h-34.00zM993.56 650.4h34.00v1.00h-34.00zM993.56 653.7h34.00v1.20h-34.00zM993.56 661.8h34.00v1.50h-34.00zM993.56 671.2h34.00v1.50h-34.00zM993.56 677.7h34.00v1.20h-34.00zM993.56 705.7h34.00v3.40h-34.00zM993.56 717.6h34.00v1.90h-34.00zM993.56 732.9h34.00v1.00h-34.00zM993.56 753.2h34.00v1.50h-34.00zM993.56 771h34.00v1.00h-34.00zM993.56 786.2h34.00v2.00h-34.00zM993.56 799h34.00v1.00h-34.00zM993.56 828.2h34.00v1.50h-34.00zM993.56 848h34.00v1.00h-34.00zM993.56 872.1h34.00v1.50h-34.00z" fill="#F3B0D6" fill-opacity="0.42"/><path d="M993.56 114.8h34.00v1.20h-34.00zM993.56 211.8h34.00v1.20h-34.00zM993.56 225h34.00v0.70h-34.00zM993.56 229.9h34.00v1.50h-34.00zM993.56 286.7h34.00v1.00h-34.00zM993.56 305.2h34.00v1.50h-34.00zM993.56 532.5h34.00v1.10h-34.00zM993.56 572.7h34.00v1.50h-34.00zM993.56 581.6h34.00v1.20h-34.00zM993.56 583.8h34.00v2.00h-34.00zM993.56 614h34.00v1.00h-34.00zM993.56 633.6h34.00v1.50h-34.00zM993.56 639.1h34.00v2.00h-34.00zM993.56 644h34.00v2.00h-34.00zM993.56 658.9h34.00v1.90h-34.00zM993.56 684.8h34.00v1.50h-34.00zM993.56 697.4h34.00v1.50h-34.00zM993.56 700.4h34.00v1.50h-34.00zM993.56 710.2h34.00v1.40h-34.00z" fill="#F3B0D6" fill-opacity="0.75"/><path d="M993.56 182h34.00v1.00h-34.00zM993.56 501.8h34.00v1.10h-34.00zM993.56 535.5h34.00v3.00h-34.00zM993.56 540.4h34.00v3.30h-34.00zM993.56 610.1h34.00v1.90h-34.00zM993.56 714.2h34.00v2.30h-34.00zM993.56 736.4h34.00v1.50h-34.00zM993.56 790.1h34.00v1.80h-34.00zM993.56 902.2h34.00v1.80h-34.00z" fill="#F3B0D6" fill-opacity="0.97"/><path d="M1027.98 4.5h34.00v1.40h-34.00zM1027.98 13h34.00v1.10h-34.00zM1027.98 17.5h34.00v1.00h-34.00zM1027.98 20.8h34.00v1.50h-34.00zM1027.98 30.4h34.00v1.20h-34.00zM1027.98 38.9h34.00v0.40h-34.00zM1027.98 40.8h34.00v1.00h-34.00zM1027.98 43.8h34.00v0.70h-34.00zM1027.98 57.6h34.00v0.30h-34.00zM1027.98 59h34.00v1.00h-34.00zM1027.98 66h34.00v1.50h-34.00zM1027.98 69.7h34.00v1.50h-34.00zM1027.98 73.7h34.00v1.20h-34.00zM1027.98 78.6h34.00v1.20h-34.00zM1027.98 92.1h34.00v0.40h-34.00zM1027.98 93.9h34.00v1.10h-34.00zM1027.98 100.3h34.00v0.70h-34.00zM1027.98 104.7h34.00v1.20h-34.00zM1027.98 116.3h34.00v0.60h-34.00zM1027.98 118.4h34.00v0.80h-34.00zM1027.98 122.8h34.00v1.20h-34.00zM1027.98 127h34.00v1.10h-34.00zM1027.98 135.1h34.00v1.50h-34.00zM1027.98 170.8h34.00v1.20h-34.00zM1027.98 175.6h34.00v1.50h-34.00zM1027.98 179h34.00v1.50h-34.00zM1027.98 201.3h34.00v1.60h-34.00zM1027.98 245.9h34.00v1.20h-34.00zM1027.98 284.1h34.00v1.10h-34.00zM1027.98 311.9h34.00v0.80h-34.00zM1027.98 321.6h34.00v1.20h-34.00zM1027.98 336.9h34.00v1.10h-34.00zM1027.98 339h34.00v1.50h-34.00zM1027.98 341.7h34.00v1.50h-34.00zM1027.98 390.7h34.00v1.10h-34.00zM1027.98 398.2h34.00v1.00h-34.00zM1027.98 487.7h34.00v1.40h-34.00zM1027.98 490.6h34.00v1.10h-34.00zM1027.98 497.7h34.00v1.20h-34.00zM1027.98 500.3h34.00v0.60h-34.00zM1027.98 503.6h34.00v1.50h-34.00zM1027.98 516.2h34.00v0.80h-34.00zM1027.98 518.4h34.00v0.80h-34.00zM1027.98 533.6h34.00v1.50h-34.00zM1027.98 546.7h34.00v1.50h-34.00zM1027.98 551.6h34.00v1.10h-34.00zM1027.98 560.8h34.00v1.20h-34.00zM1027.98 569.4h34.00v1.50h-34.00zM1027.98 574.2h34.00v1.50h-34.00zM1027.98 582.8h34.00v1.50h-34.00zM1027.98 586.8h34.00v1.50h-34.00zM1027.98 589.8h34.00v0.70h-34.00zM1027.98 595.7h34.00v1.50h-34.00zM1027.98 600.6h34.00v1.50h-34.00zM1027.98 605.1h34.00v1.00h-34.00zM1027.98 612h34.00v1.50h-34.00zM1027.98 615h34.00v1.50h-34.00zM1027.98 618.4h34.00v0.60h-34.00zM1027.98 620.2h34.00v1.50h-34.00zM1027.98 624.7h34.00v1.10h-34.00zM1027.98 628.2h34.00v0.50h-34.00zM1027.98 635.1h34.00v1.10h-34.00zM1027.98 638.1h34.00v0.70h-34.00zM1027.98 640.3h34.00v0.30h-34.00zM1027.98 642.5h34.00v1.50h-34.00zM1027.98 652.5h34.00v1.20h-34.00zM1027.98 673.7h34.00v1.00h-34.00zM1027.98 699.4h34.00v1.00h-34.00zM1027.98 701.9h34.00v0.70h-34.00zM1027.98 709.1h34.00v1.50h-34.00zM1027.98 716.5h34.00v1.10h-34.00zM1027.98 734.6h34.00v1.20h-34.00zM1027.98 765.5h34.00v1.50h-34.00zM1027.98 775.4h34.00v1.50h-34.00zM1027.98 791.9h34.00v1.50h-34.00zM1027.98 799h34.00v0.30h-34.00zM1027.98 800.8h34.00v1.20h-34.00zM1027.98 834.6h34.00v1.00h-34.00zM1027.98 849h34.00v1.50h-34.00zM1027.98 866.2h34.00v0.40h-34.00zM1027.98 867.6h34.00v1.10h-34.00zM1027.98 875.1h34.00v1.40h-34.00zM1027.98 906.2h34.00v1.50h-34.00z" fill="#F9B4B1" fill-opacity="0.18"/><path d="M1027.98 3h34.00v1.50h-34.00zM1027.98 18.5h34.00v2.30h-34.00zM1027.98 55.6h34.00v2.00h-34.00zM1027.98 79.8h34.00v1.20h-34.00zM1027.98 92.5h34.00v1.40h-34.00zM1027.98 98h34.00v2.30h-34.00zM1027.98 105.9h34.00v3.60h-34.00zM1027.98 116.9h34.00v1.50h-34.00zM1027.98 141.5h34.00v1.50h-34.00zM1027.98 150h34.00v1.90h-34.00zM1027.98 160.2h34.00v1.00h-34.00zM1027.98 216.8h34.00v1.50h-34.00zM1027.98 220.1h34.00v1.50h-34.00zM1027.98 240.7h34.00v1.50h-34.00zM1027.98 244.7h34.00v1.20h-34.00zM1027.98 261.9h34.00v3.60h-34.00zM1027.98 276.3h34.00v1.00h-34.00zM1027.98 282.7h34.00v1.40h-34.00zM1027.98 299.6h34.00v1.20h-34.00zM1027.98 310.4h34.00v1.50h-34.00zM1027.98 320.6h34.00v1.00h-34.00zM1027.98 338h34.00v1.00h-34.00zM1027.98 343.2h34.00v1.40h-34.00zM1027.98 379.5h34.00v1.50h-34.00zM1027.98 399.2h34.00v1.50h-34.00zM1027.98 428h34.00v1.50h-34.00zM1027.98 465.4h34.00v1.50h-34.00zM1027.98 472.2h34.00v1.40h-34.00zM1027.98 486.5h34.00v1.20h-34.00zM1027.98 496.5h34.00v1.20h-34.00zM1027.98 498.9h34.00v1.40h-34.00zM1027.98 517h34.00v1.40h-34.00zM1027.98 524.1h34.00v1.80h-34.00zM1027.98 552.7h34.00v1.90h-34.00zM1027.98 562h34.00v1.10h-34.00zM1027.98 575.7h34.00v1.20h-34.00zM1027.98 578.6h34.00v1.20h-34.00zM1027.98 588.3h34.00v1.50h-34.00zM1027.98 594.2h34.00v1.50h-34.00zM1027.98 616.5h34.00v1.90h-34.00zM1027.98 625.8h34.00v2.40h-34.00zM1027.98 636.2h34.00v1.90h-34.00zM1027.98 638.8h34.00v1.50h-34.00zM1027.98 640.6h34.00v1.90h-34.00zM1027.98 653.7h34.00v1.20h-34.00zM1027.98 666.7h34.00v1.50h-34.00zM1027.98 684.8h34.00v1.50h-34.00zM1027.98 705.7h34.00v3.40h-34.00zM1027.98 746.5h34.00v1.50h-34.00zM1027.98 751.3h34.00v3.40h-34.00zM1027.98 776.9h34.00v1.10h-34.00zM1027.98 780h34.00v3.30h-34.00zM1027.98 797.5h34.00v1.50h-34.00zM1027.98 802h34.00v1.40h-34.00zM1027.98 811.5h34.00v1.40h-34.00zM1027.98 815.9h34.00v1.50h-34.00zM1027.98 835.6h34.00v1.50h-34.00zM1027.98 848h34.00v1.00h-34.00zM1027.98 850.5h34.00v2.20h-34.00zM1027.98 863.9h34.00v2.30h-34.00zM1027.98 866.6h34.00v1.00h-34.00zM1027.98 882.5h34.00v1.90h-34.00z" fill="#F9B4B1" fill-opacity="0.42"/><path d="M1027.98 5.9h34.00v2.30h-34.00zM1027.98 10.7h34.00v2.30h-34.00zM1027.98 27h34.00v3.40h-34.00zM1027.98 31.6h34.00v3.30h-34.00zM1027.98 37.1h34.00v1.80h-34.00zM1027.98 39.3h34.00v1.50h-34.00zM1027.98 41.8h34.00v2.00h-34.00zM1027.98 44.5h34.00v2.20h-34.00zM1027.98 57.9h34.00v1.10h-34.00zM1027.98 60h34.00v0.80h-34.00zM1027.98 67.5h34.00v2.20h-34.00zM1027.98 74.9h34.00v3.70h-34.00zM1027.98 83.9h34.00v1.20h-34.00zM1027.98 88.7h34.00v3.40h-34.00zM1027.98 95h34.00v1.10h-34.00zM1027.98 111.4h34.00v1.50h-34.00zM1027.98 114.8h34.00v1.50h-34.00zM1027.98 128.1h34.00v2.60h-34.00zM1027.98 144.8h34.00v2.20h-34.00zM1027.98 156h34.00v1.80h-34.00zM1027.98 168.2h34.00v2.60h-34.00zM1027.98 177.1h34.00v1.90h-34.00zM1027.98 186.9h34.00v1.40h-34.00zM1027.98 199.5h34.00v1.80h-34.00zM1027.98 202.9h34.00v1.80h-34.00zM1027.98 211.2h34.00v1.90h-34.00zM1027.98 233.2h34.00v1.40h-34.00zM1027.98 234h34.00v0.70h-34.00zM1027.98 247.1h34.00v1.70h-34.00zM1027.98 254.8h34.00v1.50h-34.00zM1027.98 268.9h34.00v1.00h-34.00zM1027.98 291.9h34.00v1.10h-34.00zM1027.98 305.2h34.00v1.50h-34.00zM1027.98 312.7h34.00v1.10h-34.00zM1027.98 316.2h34.00v2.00h-34.00zM1027.98 322.8h34.00v1.10h-34.00zM1027.98 335.4h34.00v1.50h-34.00zM1027.98 340.5h34.00v1.20h-34.00zM1027.98 348.4h34.00v1.90h-34.00zM1027.98 364.2h34.00v1.50h-34.00zM1027.98 369.1h34.00v1.80h-34.00zM1027.98 388.4h34.00v2.20h-34.00zM1027.98 390h34.00v0.70h-34.00zM1027.98 391.8h34.00v1.20h-34.00zM1027.98 395.2h34.00v3.00h-34.00zM1027.98 421.5h34.00v1.90h-34.00zM1027.98 443.7h34.00v1.20h-34.00zM1027.98 449h34.00v3.00h-34.00zM1027.98 458h34.00v1.00h-34.00zM1027.98 461.2h34.00v2.20h-34.00zM1027.98 489.1h34.00v1.50h-34.00zM1027.98 491.7h34.00v1.80h-34.00zM1027.98 505.1h34.00v2.20h-34.00zM1027.98 514.3h34.00v1.90h-34.00zM1027.98 519.2h34.00v2.20h-34.00zM1027.98 540.4h34.00v3.30h-34.00zM1027.98 546h34.00v0.70h-34.00zM1027.98 581.6h34.00v1.20h-34.00zM1027.98 602.1h34.00v3.00h-34.00zM1027.98 606.1h34.00v2.20h-34.00zM1027.98 610.1h34.00v1.90h-34.00zM1027.98 613.5h34.00v1.50h-34.00zM1027.98 619h34.00v1.20h-34.00zM1027.98 621.7h34.00v3.20h-34.00zM1027.98 624h34.00v0.70h-34.00zM1027.98 628.7h34.00v1.50h-34.00zM1027.98 633.6h34.00v1.50h-34.00zM1027.98 644h34.00v2.00h-34.00zM1027.98 649.2h34.00v3.30h-34.00zM1027.98 662.9h34.00v1.90h-34.00zM1027.98 670.3h34.00v3.40h-34.00zM1027.98 680.1h34.00v3.00h-34.00zM1027.98 697.9h34.00v1.50h-34.00zM1027.98 700.4h34.00v1.50h-34.00zM1027.98 702.7h34.00v1.10h-34.00zM1027.98 710.6h34.00v1.80h-34.00zM1027.98 717.6h34.00v2.50h-34.00zM1027.98 728h34.00v2.20h-34.00zM1027.98 732.9h34.00v1.70h-34.00zM1027.98 742.4h34.00v1.90h-34.00zM1027.98 767h34.00v1.50h-34.00zM1027.98 785.2h34.00v3.00h-34.00zM1027.98 790.1h34.00v1.80h-34.00zM1027.98 793.4h34.00v2.20h-34.00zM1027.98 799.3h34.00v1.50h-34.00zM1027.98 806h34.00v3.40h-34.00zM1027.98 823h34.00v3.00h-34.00zM1027.98 828.7h34.00v2.50h-34.00zM1027.98 833.1h34.00v1.50h-34.00zM1027.98 843.1h34.00v1.40h-34.00zM1027.98 854.9h34.00v2.00h-34.00zM1027.98 868.7h34.00v1.20h-34.00zM1027.98 876.5h34.00v1.50h-34.00zM1027.98 886.5h34.00v1.50h-34.00z" fill="#F9B4B1" fill-opacity="0.75"/><path d="M1027.98 14.1h34.00v3.40h-34.00zM1027.98 22.3h34.00v2.90h-34.00zM1027.98 63h34.00v3.00h-34.00zM1027.98 71.2h34.00v2.50h-34.00zM1027.98 101h34.00v3.70h-34.00zM1027.98 119.2h34.00v3.60h-34.00zM1027.98 124h34.00v3.00h-34.00zM1027.98 132.9h34.00v2.20h-34.00zM1027.98 136.6h34.00v1.50h-34.00zM1027.98 154.4h34.00v3.60h-34.00zM1027.98 172h34.00v3.60h-34.00zM1027.98 180.5h34.00v3.40h-34.00zM1027.98 207.3h34.00v2.10h-34.00zM1027.98 285.2h34.00v3.40h-34.00zM1027.98 295.1h34.00v2.40h-34.00zM1027.98 312.9h34.00v1.10h-34.00zM1027.98 500.9h34.00v2.70h-34.00zM1027.98 531.1h34.00v2.50h-34.00zM1027.98 535.1h34.00v3.40h-34.00zM1027.98 545.4h34.00v1.50h-34.00zM1027.98 548.2h34.00v3.40h-34.00zM1027.98 558.6h34.00v2.20h-34.00zM1027.98 566.5h34.00v2.90h-34.00zM1027.98 570.9h34.00v3.30h-34.00zM1027.98 584.3h34.00v2.50h-34.00zM1027.98 590.5h34.00v1.50h-34.00zM1027.98 597.2h34.00v3.40h-34.00zM1027.98 657.4h34.00v3.40h-34.00zM1027.98 674.7h34.00v3.50h-34.00zM1027.98 692.2h34.00v2.70h-34.00zM1027.98 702.6h34.00v1.40h-34.00zM1027.98 714.2h34.00v2.30h-34.00zM1027.98 735.8h34.00v3.00h-34.00zM1027.98 762.1h34.00v3.40h-34.00zM1027.98 771.4h34.00v4.00h-34.00zM1027.98 779.9h34.00v2.10h-34.00zM1027.98 871.6h34.00v3.50h-34.00zM1027.98 902.2h34.00v4.00h-34.00zM1027.98 907.7h34.00v3.40h-34.00z" fill="#F9B4B1" fill-opacity="0.97"/><path d="M1062.40 4.5h34.00v1.40h-34.00zM1062.40 8h34.00v0.30h-34.00zM1062.40 9.5h34.00v0.50h-34.00zM1062.40 13h34.00v1.20h-34.00zM1062.40 17.5h34.00v0.80h-34.00zM1062.40 29.8h34.00v0.40h-34.00zM1062.40 31.4h34.00v0.30h-34.00zM1062.40 39h34.00v0.80h-34.00zM1062.40 48h34.00v0.50h-34.00zM1062.40 69.6h34.00v1.40h-34.00zM1062.40 74h34.00v0.80h-34.00zM1062.40 78.6h34.00v1.20h-34.00zM1062.40 92h34.00v1.10h-34.00zM1062.40 100.2h34.00v0.90h-34.00zM1062.40 104.6h34.00v1.20h-34.00zM1062.40 116.1h34.00v0.40h-34.00zM1062.40 118h34.00v0.80h-34.00zM1062.40 135.8h34.00v0.80h-34.00zM1062.40 161h34.00v0.90h-34.00zM1062.40 170.8h34.00v1.20h-34.00zM1062.40 175.5h34.00v1.60h-34.00zM1062.40 201.6h34.00v1.50h-34.00zM1062.40 209.5h34.00v1.50h-34.00zM1062.40 235.4h34.00v1.60h-34.00zM1062.40 242.3h34.00v1.40h-34.00zM1062.40 253.5h34.00v1.60h-34.00zM1062.40 301.7h34.00v1.20h-34.00zM1062.40 303.8h34.00v1.20h-34.00zM1062.40 306.8h34.00v0.60h-34.00zM1062.40 321.7h34.00v1.20h-34.00zM1062.40 330.7h34.00v1.20h-34.00zM1062.40 336.9h34.00v1.10h-34.00zM1062.40 341.8h34.00v1.60h-34.00zM1062.40 455.3h34.00v1.60h-34.00zM1062.40 490.5h34.00v1.40h-34.00zM1062.40 503.5h34.00v1.40h-34.00zM1062.40 515.3h34.00v1.50h-34.00zM1062.40 547h34.00v1.10h-34.00zM1062.40 551.7h34.00v1.40h-34.00zM1062.40 559h34.00v1.00h-34.00zM1062.40 561.1h34.00v1.50h-34.00zM1062.40 569.4h34.00v1.50h-34.00zM1062.40 586.8h34.00v0.60h-34.00zM1062.40 589.8h34.00v0.90h-34.00zM1062.40 595.7h34.00v1.20h-34.00zM1062.40 604.9h34.00v1.50h-34.00zM1062.40 608.7h34.00v1.40h-34.00zM1062.40 634.9h34.00v0.90h-34.00zM1062.40 638h34.00v0.80h-34.00zM1062.40 642.7h34.00v1.40h-34.00zM1062.40 668.4h34.00v1.50h-34.00zM1062.40 686.5h34.00v1.40h-34.00zM1062.40 699.5h34.00v1.40h-34.00zM1062.40 703.8h34.00v1.20h-34.00zM1062.40 707.7h34.00v0.20h-34.00zM1062.40 712.7h34.00v1.40h-34.00zM1062.40 716.8h34.00v1.50h-34.00zM1062.40 725.1h34.00v0.60h-34.00zM1062.40 726.9h34.00v1.10h-34.00zM1062.40 734.9h34.00v1.40h-34.00zM1062.40 742h34.00v0.80h-34.00zM1062.40 750.8h34.00v0.70h-34.00zM1062.40 752.9h34.00v1.40h-34.00zM1062.40 757.6h34.00v1.20h-34.00zM1062.40 765.9h34.00v1.20h-34.00zM1062.40 776h34.00v0.80h-34.00zM1062.40 799.2h34.00v0.30h-34.00zM1062.40 800.7h34.00v1.20h-34.00zM1062.40 803.1h34.00v0.80h-34.00zM1062.40 809.6h34.00v1.40h-34.00zM1062.40 865.3h34.00v1.00h-34.00zM1062.40 867.5h34.00v1.40h-34.00zM1062.40 892.9h34.00v1.20h-34.00zM1062.40 895.3h34.00v1.20h-34.00z" fill="#D8B8DC" fill-opacity="0.18"/><path d="M1062.40 3h34.00v1.50h-34.00zM1062.40 8.3h34.00v1.20h-34.00zM1062.40 18.3h34.00v2.40h-34.00zM1062.40 30.2h34.00v1.20h-34.00zM1062.40 48.5h34.00v1.20h-34.00zM1062.40 62.1h34.00v1.20h-34.00zM1062.40 79.8h34.00v1.20h-34.00zM1062.40 89.8h34.00v2.20h-34.00zM1062.40 98.4h34.00v1.80h-34.00zM1062.40 105.8h34.00v1.80h-34.00zM1062.40 116.5h34.00v1.50h-34.00zM1062.40 124.7h34.00v1.60h-34.00zM1062.40 141.3h34.00v1.60h-34.00zM1062.40 160.1h34.00v0.90h-34.00zM1062.40 161.9h34.00v1.00h-34.00zM1062.40 203.1h34.00v1.20h-34.00zM1062.40 237h34.00v1.10h-34.00zM1062.40 241.1h34.00v1.20h-34.00zM1062.40 252.3h34.00v1.20h-34.00zM1062.40 262.2h34.00v3.50h-34.00zM1062.40 283.1h34.00v0.80h-34.00zM1062.40 305h34.00v1.80h-34.00zM1062.40 307.4h34.00v1.20h-34.00zM1062.40 320.5h34.00v1.20h-34.00zM1062.40 331.9h34.00v0.80h-34.00zM1062.40 338h34.00v1.00h-34.00zM1062.40 343.4h34.00v1.10h-34.00zM1062.40 353.2h34.00v1.40h-34.00zM1062.40 372.1h34.00v0.80h-34.00zM1062.40 379.7h34.00v1.20h-34.00zM1062.40 395.9h34.00v1.20h-34.00zM1062.40 399.7h34.00v1.20h-34.00zM1062.40 428.1h34.00v1.50h-34.00zM1062.40 456.9h34.00v1.10h-34.00zM1062.40 472.1h34.00v1.60h-34.00zM1062.40 486.3h34.00v1.20h-34.00zM1062.40 510.4h34.00v1.20h-34.00zM1062.40 514.2h34.00v1.10h-34.00zM1062.40 516.8h34.00v1.10h-34.00zM1062.40 553.1h34.00v1.40h-34.00zM1062.40 557.8h34.00v1.20h-34.00zM1062.40 560h34.00v1.10h-34.00zM1062.40 587.4h34.00v2.40h-34.00zM1062.40 593.9h34.00v1.80h-34.00zM1062.40 613.7h34.00v1.20h-34.00zM1062.40 620h34.00v0.80h-34.00zM1062.40 628.5h34.00v1.20h-34.00zM1062.40 654.2h34.00v0.80h-34.00zM1062.40 705h34.00v2.70h-34.00zM1062.40 725.7h34.00v1.20h-34.00zM1062.40 740.5h34.00v1.50h-34.00zM1062.40 749.3h34.00v1.50h-34.00zM1062.40 751.5h34.00v1.40h-34.00zM1062.40 758.8h34.00v1.80h-34.00zM1062.40 770.9h34.00v1.20h-34.00zM1062.40 780.9h34.00v1.20h-34.00zM1062.40 801.9h34.00v1.20h-34.00zM1062.40 803.9h34.00v1.20h-34.00zM1062.40 820.8h34.00v1.20h-34.00zM1062.40 839.2h34.00v1.20h-34.00zM1062.40 866.3h34.00v1.20h-34.00zM1062.40 894.1h34.00v1.20h-34.00zM1062.40 896.5h34.00v1.10h-34.00zM1062.40 907.7h34.00v1.20h-34.00zM1062.40 911.3h34.00v1.10h-34.00z" fill="#D8B8DC" fill-opacity="0.42"/><path d="M1062.40 5.9h34.00v2.10h-34.00zM1062.40 10h34.00v3.00h-34.00zM1062.40 22.7h34.00v2.70h-34.00zM1062.40 27.2h34.00v2.60h-34.00zM1062.40 36.9h34.00v2.10h-34.00zM1062.40 39.8h34.00v3.40h-34.00zM1062.40 45h34.00v3.00h-34.00zM1062.40 57.4h34.00v1.50h-34.00zM1062.40 67.5h34.00v2.10h-34.00zM1062.40 71h34.00v3.00h-34.00zM1062.40 74.8h34.00v3.90h-34.00zM1062.40 78h34.00v0.60h-34.00zM1062.40 83.9h34.00v1.20h-34.00zM1062.40 111.4h34.00v1.50h-34.00zM1062.40 114.9h34.00v1.20h-34.00zM1062.40 118.8h34.00v3.90h-34.00zM1062.40 128.3h34.00v2.00h-34.00zM1062.40 132.7h34.00v3.10h-34.00zM1062.40 136.6h34.00v1.20h-34.00zM1062.40 144.9h34.00v2.00h-34.00zM1062.40 150.4h34.00v1.90h-34.00zM1062.40 154.3h34.00v3.70h-34.00zM1062.40 156h34.00v1.80h-34.00zM1062.40 167.8h34.00v3.00h-34.00zM1062.40 172h34.00v3.50h-34.00zM1062.40 177.1h34.00v1.60h-34.00zM1062.40 186.8h34.00v1.70h-34.00zM1062.40 199.6h34.00v2.00h-34.00zM1062.40 207.5h34.00v2.00h-34.00zM1062.40 211h34.00v1.80h-34.00zM1062.40 217.3h34.00v2.00h-34.00zM1062.40 223.7h34.00v1.90h-34.00zM1062.40 228.8h34.00v2.30h-34.00zM1062.40 233.5h34.00v2.50h-34.00zM1062.40 234h34.00v1.40h-34.00zM1062.40 243.7h34.00v1.50h-34.00zM1062.40 247h34.00v2.60h-34.00zM1062.40 255.1h34.00v1.10h-34.00zM1062.40 285.5h34.00v3.20h-34.00zM1062.40 292h34.00v1.40h-34.00zM1062.40 295.3h34.00v2.00h-34.00zM1062.40 300h34.00v1.70h-34.00zM1062.40 302.9h34.00v0.90h-34.00zM1062.40 322.9h34.00v0.90h-34.00zM1062.40 329.2h34.00v1.50h-34.00zM1062.40 335.9h34.00v1.00h-34.00zM1062.40 340.6h34.00v1.20h-34.00zM1062.40 348.4h34.00v1.70h-34.00zM1062.40 388.7h34.00v1.60h-34.00zM1062.40 390h34.00v0.60h-34.00zM1062.40 421.7h34.00v1.70h-34.00zM1062.40 435.2h34.00v1.90h-34.00zM1062.40 443.8h34.00v1.80h-34.00zM1062.40 453.9h34.00v1.40h-34.00zM1062.40 489.1h34.00v1.40h-34.00zM1062.40 491.9h34.00v1.90h-34.00zM1062.40 501.1h34.00v2.40h-34.00zM1062.40 504.9h34.00v1.60h-34.00zM1062.40 519.5h34.00v1.80h-34.00zM1062.40 524.2h34.00v1.80h-34.00zM1062.40 535.7h34.00v2.70h-34.00zM1062.40 540.8h34.00v2.70h-34.00zM1062.40 545.5h34.00v1.50h-34.00zM1062.40 546h34.00v1.00h-34.00zM1062.40 562.6h34.00v1.70h-34.00zM1062.40 570.9h34.00v3.50h-34.00zM1062.40 576.2h34.00v1.50h-34.00zM1062.40 584.5h34.00v2.30h-34.00zM1062.40 590.7h34.00v1.50h-34.00zM1062.40 596.9h34.00v3.50h-34.00zM1062.40 602.2h34.00v2.70h-34.00zM1062.40 606.4h34.00v2.30h-34.00zM1062.40 610.1h34.00v1.90h-34.00zM1062.40 623.9h34.00v1.20h-34.00zM1062.40 624h34.00v1.00h-34.00zM1062.40 633.7h34.00v1.20h-34.00zM1062.40 635.8h34.00v2.20h-34.00zM1062.40 638.8h34.00v3.90h-34.00zM1062.40 644.1h34.00v1.80h-34.00zM1062.40 649.1h34.00v3.50h-34.00zM1062.40 662.8h34.00v1.70h-34.00zM1062.40 666.8h34.00v1.60h-34.00zM1062.40 669.9h34.00v3.60h-34.00zM1062.40 680.2h34.00v1.80h-34.00zM1062.40 684.6h34.00v1.90h-34.00zM1062.40 687.9h34.00v3.00h-34.00zM1062.40 698h34.00v1.50h-34.00zM1062.40 700.9h34.00v3.10h-34.00zM1062.40 702h34.00v1.80h-34.00zM1062.40 707.9h34.00v1.20h-34.00zM1062.40 710.9h34.00v1.80h-34.00zM1062.40 718.3h34.00v2.40h-34.00zM1062.40 723.3h34.00v1.80h-34.00zM1062.40 728h34.00v2.40h-34.00zM1062.40 733h34.00v1.90h-34.00zM1062.40 742.8h34.00v1.60h-34.00zM1062.40 746h34.00v1.60h-34.00zM1062.40 764.7h34.00v1.20h-34.00zM1062.40 767.1h34.00v1.20h-34.00zM1062.40 774.8h34.00v1.20h-34.00zM1062.40 776.8h34.00v1.20h-34.00zM1062.40 780.7h34.00v1.30h-34.00zM1062.40 785.9h34.00v2.60h-34.00zM1062.40 790.1h34.00v1.70h-34.00zM1062.40 793.6h34.00v2.00h-34.00zM1062.40 797.8h34.00v1.40h-34.00zM1062.40 799.5h34.00v1.20h-34.00zM1062.40 807.2h34.00v2.40h-34.00zM1062.40 811h34.00v2.70h-34.00zM1062.40 816.4h34.00v2.10h-34.00zM1062.40 823.6h34.00v1.40h-34.00zM1062.40 828.8h34.00v3.00h-34.00zM1062.40 847.7h34.00v1.20h-34.00zM1062.40 850.8h34.00v1.60h-34.00zM1062.40 854.8h34.00v1.90h-34.00zM1062.40 858.7h34.00v1.30h-34.00zM1062.40 858.9h34.00v2.10h-34.00zM1062.40 863.9h34.00v1.40h-34.00zM1062.40 868.9h34.00v0.90h-34.00zM1062.40 876.7h34.00v3.20h-34.00zM1062.40 881.7h34.00v2.10h-34.00zM1062.40 891.4h34.00v1.50h-34.00z" fill="#D8B8DC" fill-opacity="0.75"/><path d="M1062.40 14.2h34.00v3.30h-34.00zM1062.40 31.7h34.00v2.90h-34.00zM1062.40 93.1h34.00v2.90h-34.00zM1062.40 101.1h34.00v3.50h-34.00zM1062.40 180.3h34.00v3.50h-34.00zM1062.40 449.2h34.00v2.90h-34.00zM1062.40 497h34.00v2.40h-34.00zM1062.40 531.3h34.00v2.40h-34.00zM1062.40 548.1h34.00v3.60h-34.00zM1062.40 566.1h34.00v3.30h-34.00zM1062.40 579.4h34.00v3.00h-34.00zM1062.40 657.7h34.00v3.00h-34.00zM1062.40 675.1h34.00v3.30h-34.00zM1062.40 692.6h34.00v3.40h-34.00zM1062.40 714.1h34.00v2.70h-34.00zM1062.40 736.3h34.00v2.60h-34.00zM1062.40 754.3h34.00v3.30h-34.00zM1062.40 833.5h34.00v3.30h-34.00zM1062.40 872h34.00v2.80h-34.00zM1062.40 885.5h34.00v3.00h-34.00zM1062.40 902.4h34.00v3.50h-34.00z" fill="#D8B8DC" fill-opacity="0.97"/><path d="M1096.82 4.5h34.00v1.40h-34.00zM1096.82 13h34.00v1.20h-34.00zM1096.82 17.5h34.00v0.80h-34.00zM1096.82 29.8h34.00v0.40h-34.00zM1096.82 39h34.00v0.80h-34.00zM1096.82 43.2h34.00v1.50h-34.00zM1096.82 58.9h34.00v0.90h-34.00zM1096.82 69.6h34.00v1.40h-34.00zM1096.82 74h34.00v0.80h-34.00zM1096.82 78.6h34.00v1.20h-34.00zM1096.82 100.2h34.00v0.90h-34.00zM1096.82 104.6h34.00v1.20h-34.00zM1096.82 116.1h34.00v0.40h-34.00zM1096.82 118h34.00v0.80h-34.00zM1096.82 135.8h34.00v0.80h-34.00zM1096.82 166.9h34.00v0.90h-34.00zM1096.82 170.8h34.00v1.20h-34.00zM1096.82 175.5h34.00v1.60h-34.00zM1096.82 201.6h34.00v1.50h-34.00zM1096.82 212.8h34.00v1.00h-34.00zM1096.82 219.7h34.00v1.20h-34.00zM1096.82 236h34.00v1.00h-34.00zM1096.82 245.8h34.00v1.20h-34.00zM1096.82 253.5h34.00v1.60h-34.00zM1096.82 301.7h34.00v1.20h-34.00zM1096.82 303.8h34.00v1.20h-34.00zM1096.82 306.8h34.00v0.60h-34.00zM1096.82 341.8h34.00v1.60h-34.00zM1096.82 411.9h34.00v0.80h-34.00zM1096.82 429.6h34.00v1.20h-34.00zM1096.82 490.5h34.00v1.40h-34.00zM1096.82 547h34.00v1.10h-34.00zM1096.82 551.7h34.00v1.40h-34.00zM1096.82 569.4h34.00v1.50h-34.00zM1096.82 595.7h34.00v1.20h-34.00zM1096.82 604.9h34.00v1.50h-34.00zM1096.82 608.7h34.00v1.40h-34.00zM1096.82 634.9h34.00v0.90h-34.00zM1096.82 638h34.00v1.10h-34.00zM1096.82 658.1h34.00v0.80h-34.00zM1096.82 668.4h34.00v1.50h-34.00zM1096.82 686.5h34.00v1.40h-34.00zM1096.82 699.5h34.00v1.40h-34.00zM1096.82 703.8h34.00v1.20h-34.00zM1096.82 707.7h34.00v0.20h-34.00zM1096.82 712.7h34.00v1.40h-34.00zM1096.82 716.8h34.00v1.50h-34.00zM1096.82 725.1h34.00v0.60h-34.00zM1096.82 726.9h34.00v1.10h-34.00zM1096.82 734.9h34.00v1.40h-34.00zM1096.82 742h34.00v0.80h-34.00zM1096.82 750.8h34.00v0.70h-34.00zM1096.82 752.9h34.00v1.40h-34.00zM1096.82 757.6h34.00v1.20h-34.00zM1096.82 765.9h34.00v1.20h-34.00zM1096.82 800.7h34.00v1.20h-34.00zM1096.82 809.6h34.00v1.40h-34.00zM1096.82 827.9h34.00v0.90h-34.00zM1096.82 865.7h34.00v0.80h-34.00zM1096.82 867.7h34.00v1.20h-34.00zM1096.82 892.9h34.00v1.20h-34.00zM1096.82 895.3h34.00v1.20h-34.00z" fill="#C9D69E" fill-opacity="0.18"/><path d="M1096.82 3h34.00v1.50h-34.00zM1096.82 18.3h34.00v2.40h-34.00zM1096.82 30.2h34.00v3.50h-34.00zM1096.82 48.5h34.00v1.20h-34.00zM1096.82 55.4h34.00v3.50h-34.00zM1096.82 79.8h34.00v1.20h-34.00zM1096.82 89.6h34.00v1.20h-34.00zM1096.82 98.4h34.00v1.80h-34.00zM1096.82 105.8h34.00v1.80h-34.00zM1096.82 116.5h34.00v1.50h-34.00zM1096.82 124.7h34.00v1.60h-34.00zM1096.82 128.9h34.00v1.80h-34.00zM1096.82 141.3h34.00v1.60h-34.00zM1096.82 165.7h34.00v1.20h-34.00zM1096.82 177.1h34.00v1.60h-34.00zM1096.82 203.1h34.00v1.20h-34.00zM1096.82 213.8h34.00v0.90h-34.00zM1096.82 220.9h34.00v0.90h-34.00zM1096.82 228.4h34.00v3.30h-34.00zM1096.82 237h34.00v1.10h-34.00zM1096.82 241.1h34.00v1.20h-34.00zM1096.82 252.3h34.00v1.20h-34.00zM1096.82 262.2h34.00v3.50h-34.00zM1096.82 305h34.00v1.80h-34.00zM1096.82 307.4h34.00v1.20h-34.00zM1096.82 331.9h34.00v0.80h-34.00zM1096.82 338h34.00v1.00h-34.00zM1096.82 343.4h34.00v1.10h-34.00zM1096.82 410.7h34.00v1.20h-34.00zM1096.82 428.1h34.00v1.50h-34.00zM1096.82 430.8h34.00v1.60h-34.00zM1096.82 472.1h34.00v1.60h-34.00zM1096.82 486.3h34.00v1.20h-34.00zM1096.82 510.4h34.00v1.20h-34.00zM1096.82 553.1h34.00v1.40h-34.00zM1096.82 557.8h34.00v1.20h-34.00zM1096.82 588.4h34.00v1.20h-34.00zM1096.82 593.9h34.00v1.80h-34.00zM1096.82 613.7h34.00v1.20h-34.00zM1096.82 620h34.00v0.80h-34.00zM1096.82 628.5h34.00v1.20h-34.00zM1096.82 643.9h34.00v1.20h-34.00zM1096.82 654.2h34.00v0.80h-34.00zM1096.82 656.9h34.00v1.20h-34.00zM1096.82 680.8h34.00v1.40h-34.00zM1096.82 705h34.00v2.70h-34.00zM1096.82 718.3h34.00v1.50h-34.00zM1096.82 725.7h34.00v1.20h-34.00zM1096.82 740.5h34.00v1.50h-34.00zM1096.82 749.3h34.00v1.50h-34.00zM1096.82 751.5h34.00v1.40h-34.00zM1096.82 758.8h34.00v1.80h-34.00zM1096.82 770.9h34.00v1.20h-34.00zM1096.82 801.9h34.00v3.20h-34.00zM1096.82 826.2h34.00v1.70h-34.00zM1096.82 839.2h34.00v1.20h-34.00zM1096.82 855.7h34.00v1.20h-34.00zM1096.82 864.2h34.00v1.50h-34.00zM1096.82 866.5h34.00v1.20h-34.00zM1096.82 894.1h34.00v1.20h-34.00zM1096.82 896.5h34.00v1.10h-34.00zM1096.82 907.7h34.00v1.20h-34.00z" fill="#C9D69E" fill-opacity="0.42"/><path d="M1096.82 5.9h34.00v2.10h-34.00zM1096.82 9.7h34.00v3.30h-34.00zM1096.82 27.2h34.00v2.60h-34.00zM1096.82 33.7h34.00v1.20h-34.00zM1096.82 36.9h34.00v2.10h-34.00zM1096.82 39.8h34.00v3.40h-34.00zM1096.82 44.7h34.00v1.20h-34.00zM1096.82 59.8h34.00v1.10h-34.00zM1096.82 67.5h34.00v2.10h-34.00zM1096.82 74.8h34.00v3.90h-34.00zM1096.82 78h34.00v0.60h-34.00zM1096.82 83.9h34.00v1.20h-34.00zM1096.82 111.4h34.00v1.50h-34.00zM1096.82 114.9h34.00v1.20h-34.00zM1096.82 136.6h34.00v1.20h-34.00zM1096.82 144.9h34.00v2.00h-34.00zM1096.82 156h34.00v1.80h-34.00zM1096.82 167.8h34.00v3.00h-34.00zM1096.82 172h34.00v3.50h-34.00zM1096.82 186.8h34.00v1.70h-34.00zM1096.82 207.5h34.00v2.00h-34.00zM1096.82 211.6h34.00v1.20h-34.00zM1096.82 217.3h34.00v2.40h-34.00zM1096.82 224.6h34.00v1.00h-34.00zM1096.82 234.7h34.00v1.30h-34.00zM1096.82 234.6h34.00v1.20h-34.00zM1096.82 244.9h34.00v0.90h-34.00zM1096.82 255.1h34.00v1.10h-34.00zM1096.82 292h34.00v1.20h-34.00zM1096.82 300h34.00v1.70h-34.00zM1096.82 302.9h34.00v0.90h-34.00zM1096.82 322.9h34.00v0.90h-34.00zM1096.82 340.6h34.00v1.20h-34.00zM1096.82 353.2h34.00v1.40h-34.00zM1096.82 372.1h34.00v0.80h-34.00zM1096.82 379.7h34.00v1.20h-34.00zM1096.82 412.7h34.00v1.20h-34.00zM1096.82 435.2h34.00v1.90h-34.00zM1096.82 489.1h34.00v1.40h-34.00zM1096.82 491.9h34.00v1.90h-34.00zM1096.82 504.9h34.00v1.60h-34.00zM1096.82 514.2h34.00v2.10h-34.00zM1096.82 519.5h34.00v1.80h-34.00zM1096.82 540.8h34.00v2.70h-34.00zM1096.82 545.5h34.00v1.50h-34.00zM1096.82 546h34.00v1.00h-34.00zM1096.82 562.6h34.00v1.70h-34.00zM1096.82 570.9h34.00v3.50h-34.00zM1096.82 576.2h34.00v1.50h-34.00zM1096.82 580.9h34.00v1.50h-34.00zM1096.82 584.5h34.00v2.30h-34.00zM1096.82 602.2h34.00v2.70h-34.00zM1096.82 606.4h34.00v2.30h-34.00zM1096.82 610.1h34.00v1.90h-34.00zM1096.82 623.9h34.00v1.20h-34.00zM1096.82 624h34.00v1.00h-34.00zM1096.82 633.7h34.00v1.20h-34.00zM1096.82 635.8h34.00v2.20h-34.00zM1096.82 639.1h34.00v1.70h-34.00zM1096.82 658.9h34.00v1.80h-34.00zM1096.82 662.8h34.00v1.70h-34.00zM1096.82 666.8h34.00v1.60h-34.00zM1096.82 669.9h34.00v3.60h-34.00zM1096.82 684.6h34.00v1.90h-34.00zM1096.82 698h34.00v1.50h-34.00zM1096.82 702h34.00v1.80h-34.00zM1096.82 707.9h34.00v1.20h-34.00zM1096.82 710.9h34.00v1.80h-34.00zM1096.82 723.3h34.00v1.80h-34.00zM1096.82 728h34.00v2.40h-34.00zM1096.82 733h34.00v1.90h-34.00zM1096.82 742.8h34.00v1.60h-34.00zM1096.82 746h34.00v1.60h-34.00zM1096.82 767.1h34.00v1.20h-34.00zM1096.82 797.8h34.00v2.90h-34.00zM1096.82 807.2h34.00v2.40h-34.00zM1096.82 811h34.00v2.70h-34.00zM1096.82 820.8h34.00v1.20h-34.00zM1096.82 828.8h34.00v3.00h-34.00zM1096.82 847.7h34.00v1.20h-34.00zM1096.82 850.8h34.00v1.60h-34.00zM1096.82 868.9h34.00v0.90h-34.00zM1096.82 881.7h34.00v2.10h-34.00zM1096.82 891.4h34.00v1.50h-34.00z" fill="#C9D69E" fill-opacity="0.75"/><path d="M1096.82 14.2h34.00v3.30h-34.00zM1096.82 22.7h34.00v2.70h-34.00zM1096.82 62.7h34.00v3.00h-34.00zM1096.82 71h34.00v3.00h-34.00zM1096.82 93.1h34.00v2.90h-34.00zM1096.82 101.1h34.00v3.50h-34.00zM1096.82 118.8h34.00v3.90h-34.00zM1096.82 132.7h34.00v3.10h-34.00zM1096.82 154.3h34.00v3.70h-34.00zM1096.82 180.3h34.00v3.50h-34.00zM1096.82 198.6h34.00v3.00h-34.00zM1096.82 247h34.00v2.60h-34.00zM1096.82 285.5h34.00v2.00h-34.00zM1096.82 295.3h34.00v2.00h-34.00zM1096.82 421.7h34.00v1.70h-34.00zM1096.82 443.8h34.00v3.00h-34.00zM1096.82 497h34.00v2.40h-34.00zM1096.82 501.1h34.00v1.80h-34.00zM1096.82 531.3h34.00v2.40h-34.00zM1096.82 535.7h34.00v2.70h-34.00zM1096.82 548.1h34.00v3.60h-34.00zM1096.82 566.1h34.00v3.30h-34.00zM1096.82 596.9h34.00v3.50h-34.00zM1096.82 649.1h34.00v3.50h-34.00zM1096.82 675.1h34.00v3.30h-34.00zM1096.82 687.9h34.00v3.00h-34.00zM1096.82 692.6h34.00v3.40h-34.00zM1096.82 700.9h34.00v3.10h-34.00zM1096.82 714.1h34.00v2.70h-34.00zM1096.82 736.3h34.00v2.60h-34.00zM1096.82 754.3h34.00v3.30h-34.00zM1096.82 764.7h34.00v1.20h-34.00zM1096.82 785.9h34.00v2.60h-34.00zM1096.82 790.1h34.00v1.70h-34.00zM1096.82 793.6h34.00v2.00h-34.00zM1096.82 816.4h34.00v2.10h-34.00zM1096.82 833.5h34.00v3.30h-34.00zM1096.82 858.7h34.00v1.30h-34.00zM1096.82 858.9h34.00v2.10h-34.00zM1096.82 872h34.00v2.80h-34.00zM1096.82 876.7h34.00v3.20h-34.00zM1096.82 885.5h34.00v3.00h-34.00zM1096.82 902.4h34.00v3.50h-34.00z" fill="#C9D69E" fill-opacity="0.97"/><path d="M1131.24 4.5h34.00v1.40h-34.00zM1131.24 8h34.00v0.30h-34.00zM1131.24 9.5h34.00v0.50h-34.00zM1131.24 13h34.00v1.20h-34.00zM1131.24 17.5h34.00v0.80h-34.00zM1131.24 31.4h34.00v0.30h-34.00zM1131.24 39h34.00v0.80h-34.00zM1131.24 40.8h34.00v0.90h-34.00zM1131.24 43.6h34.00v1.10h-34.00zM1131.24 48h34.00v0.50h-34.00zM1131.24 100.2h34.00v0.90h-34.00zM1131.24 104.6h34.00v1.20h-34.00zM1131.24 117.6h34.00v1.20h-34.00zM1131.24 122.7h34.00v1.20h-34.00zM1131.24 135.8h34.00v0.80h-34.00zM1131.24 142.9h34.00v1.60h-34.00zM1131.24 145.7h34.00v1.20h-34.00zM1131.24 161h34.00v0.90h-34.00zM1131.24 166.9h34.00v0.90h-34.00zM1131.24 170.8h34.00v1.20h-34.00zM1131.24 175.5h34.00v1.60h-34.00zM1131.24 178.7h34.00v1.00h-34.00zM1131.24 180.6h34.00v1.40h-34.00zM1131.24 201.6h34.00v1.50h-34.00zM1131.24 209.5h34.00v1.50h-34.00zM1131.24 212.8h34.00v1.00h-34.00zM1131.24 232.3h34.00v1.20h-34.00zM1131.24 235.4h34.00v1.60h-34.00zM1131.24 245.8h34.00v1.20h-34.00zM1131.24 253.5h34.00v1.60h-34.00zM1131.24 288.7h34.00v1.20h-34.00zM1131.24 290.8h34.00v1.20h-34.00zM1131.24 301.7h34.00v1.20h-34.00zM1131.24 303.8h34.00v1.20h-34.00zM1131.24 306.8h34.00v0.60h-34.00zM1131.24 321.7h34.00v1.20h-34.00zM1131.24 336.9h34.00v1.10h-34.00zM1131.24 411.9h34.00v0.80h-34.00zM1131.24 430.2h34.00v0.60h-34.00zM1131.24 452.7h34.00v1.20h-34.00zM1131.24 490.5h34.00v1.40h-34.00zM1131.24 503.5h34.00v1.40h-34.00zM1131.24 526h34.00v0.90h-34.00zM1131.24 547h34.00v1.10h-34.00zM1131.24 551.7h34.00v1.40h-34.00zM1131.24 559h34.00v1.00h-34.00zM1131.24 561.1h34.00v1.50h-34.00zM1131.24 566.7h34.00v1.20h-34.00zM1131.24 569.4h34.00v1.50h-34.00zM1131.24 580.3h34.00v0.60h-34.00zM1131.24 586.8h34.00v1.20h-34.00zM1131.24 589.8h34.00v0.90h-34.00zM1131.24 592.2h34.00v1.40h-34.00zM1131.24 594.8h34.00v0.90h-34.00zM1131.24 604.9h34.00v1.50h-34.00zM1131.24 608.7h34.00v1.40h-34.00zM1131.24 612.9h34.00v0.80h-34.00zM1131.24 634.9h34.00v0.90h-34.00zM1131.24 638h34.00v0.80h-34.00zM1131.24 642.7h34.00v1.40h-34.00zM1131.24 656h34.00v0.90h-34.00zM1131.24 658.1h34.00v0.80h-34.00zM1131.24 668.4h34.00v1.50h-34.00zM1131.24 686.5h34.00v1.40h-34.00zM1131.24 699.5h34.00v1.40h-34.00zM1131.24 703.8h34.00v1.20h-34.00zM1131.24 707.7h34.00v0.20h-34.00zM1131.24 712.7h34.00v1.40h-34.00zM1131.24 716.8h34.00v1.50h-34.00zM1131.24 725.1h34.00v0.60h-34.00zM1131.24 726.9h34.00v1.10h-34.00zM1131.24 734.9h34.00v1.40h-34.00zM1131.24 742h34.00v0.80h-34.00zM1131.24 750.8h34.00v0.70h-34.00zM1131.24 752.9h34.00v0.60h-34.00zM1131.24 754.7h34.00v1.10h-34.00zM1131.24 757.6h34.00v1.20h-34.00zM1131.24 765.9h34.00v1.20h-34.00zM1131.24 800.7h34.00v1.20h-34.00zM1131.24 805.1h34.00v1.50h-34.00zM1131.24 809.6h34.00v1.40h-34.00zM1131.24 827.9h34.00v0.90h-34.00zM1131.24 857.5h34.00v1.20h-34.00zM1131.24 865.7h34.00v0.80h-34.00zM1131.24 867.7h34.00v1.20h-34.00zM1131.24 892.9h34.00v1.20h-34.00zM1131.24 895.3h34.00v1.20h-34.00z" fill="#92D9F0" fill-opacity="0.18"/><path d="M1131.24 3h34.00v1.50h-34.00zM1131.24 8.3h34.00v1.20h-34.00zM1131.24 18.3h34.00v2.40h-34.00zM1131.24 30.2h34.00v1.20h-34.00zM1131.24 48.5h34.00v1.20h-34.00zM1131.24 98.4h34.00v1.80h-34.00zM1131.24 105.8h34.00v1.80h-34.00zM1131.24 141.3h34.00v1.60h-34.00zM1131.24 144.5h34.00v1.20h-34.00zM1131.24 160.1h34.00v0.90h-34.00zM1131.24 161.9h34.00v1.00h-34.00zM1131.24 165.7h34.00v1.20h-34.00zM1131.24 179.7h34.00v0.90h-34.00zM1131.24 213.8h34.00v0.90h-34.00zM1131.24 216.9h34.00v1.30h-34.00zM1131.24 228.8h34.00v3.50h-34.00zM1131.24 237h34.00v1.10h-34.00zM1131.24 241.1h34.00v1.20h-34.00zM1131.24 252.3h34.00v1.20h-34.00zM1131.24 262.2h34.00v3.50h-34.00zM1131.24 283.1h34.00v0.80h-34.00zM1131.24 289.9h34.00v0.90h-34.00zM1131.24 305h34.00v1.80h-34.00zM1131.24 307.4h34.00v1.20h-34.00zM1131.24 317h34.00v1.20h-34.00zM1131.24 320.5h34.00v1.20h-34.00zM1131.24 331.9h34.00v0.80h-34.00zM1131.24 338h34.00v1.00h-34.00zM1131.24 341.8h34.00v2.70h-34.00zM1131.24 368.8h34.00v1.20h-34.00zM1131.24 379.7h34.00v1.20h-34.00zM1131.24 410.7h34.00v1.20h-34.00zM1131.24 451.3h34.00v1.40h-34.00zM1131.24 472.1h34.00v1.60h-34.00zM1131.24 486.3h34.00v1.20h-34.00zM1131.24 510.4h34.00v1.20h-34.00zM1131.24 524.8h34.00v1.20h-34.00zM1131.24 526.9h34.00v1.20h-34.00zM1131.24 553.1h34.00v1.40h-34.00zM1131.24 557.8h34.00v1.20h-34.00zM1131.24 560h34.00v1.10h-34.00zM1131.24 565.9h34.00v0.80h-34.00zM1131.24 579.4h34.00v0.90h-34.00zM1131.24 588h34.00v1.80h-34.00zM1131.24 593.6h34.00v1.20h-34.00zM1131.24 620h34.00v0.80h-34.00zM1131.24 628.5h34.00v1.20h-34.00zM1131.24 656.9h34.00v1.20h-34.00zM1131.24 680.8h34.00v1.40h-34.00zM1131.24 705h34.00v2.70h-34.00zM1131.24 725.7h34.00v1.20h-34.00zM1131.24 740.5h34.00v1.50h-34.00zM1131.24 749.3h34.00v1.50h-34.00zM1131.24 751.5h34.00v1.40h-34.00zM1131.24 753.5h34.00v1.20h-34.00zM1131.24 758.8h34.00v1.80h-34.00zM1131.24 770.9h34.00v1.20h-34.00zM1131.24 801.9h34.00v3.20h-34.00zM1131.24 826.2h34.00v1.70h-34.00zM1131.24 839.2h34.00v1.20h-34.00zM1131.24 864.5h34.00v1.20h-34.00zM1131.24 866.5h34.00v1.20h-34.00zM1131.24 894.1h34.00v1.20h-34.00zM1131.24 907.7h34.00v1.20h-34.00z" fill="#92D9F0" fill-opacity="0.42"/><path d="M1131.24 27.2h34.00v3.00h-34.00zM1131.24 39.8h34.00v1.00h-34.00zM1131.24 41.7h34.00v1.90h-34.00zM1131.24 53.3h34.00v1.70h-34.00zM1131.24 83.9h34.00v1.20h-34.00zM1131.24 88.7h34.00v1.70h-34.00zM1131.24 110.5h34.00v2.40h-34.00zM1131.24 123.9h34.00v2.00h-34.00zM1131.24 128.3h34.00v2.00h-34.00zM1131.24 154.3h34.00v3.70h-34.00zM1131.24 177.1h34.00v1.60h-34.00zM1131.24 186.8h34.00v1.70h-34.00zM1131.24 203.1h34.00v1.70h-34.00zM1131.24 207.5h34.00v2.00h-34.00zM1131.24 211h34.00v1.80h-34.00zM1131.24 244.9h34.00v0.90h-34.00zM1131.24 268.9h34.00v0.80h-34.00zM1131.24 302.9h34.00v0.90h-34.00zM1131.24 335.9h34.00v1.00h-34.00zM1131.24 353.2h34.00v1.40h-34.00zM1131.24 372.1h34.00v0.80h-34.00zM1131.24 412.7h34.00v1.20h-34.00zM1131.24 428.1h34.00v2.10h-34.00zM1131.24 430.8h34.00v1.20h-34.00zM1131.24 444.7h34.00v1.20h-34.00zM1131.24 458.9h34.00v1.20h-34.00zM1131.24 504.9h34.00v1.60h-34.00zM1131.24 514.2h34.00v2.10h-34.00zM1131.24 540.8h34.00v2.70h-34.00zM1131.24 576.2h34.00v1.50h-34.00zM1131.24 602.2h34.00v2.70h-34.00zM1131.24 606.4h34.00v2.30h-34.00zM1131.24 613.7h34.00v1.20h-34.00zM1131.24 635.8h34.00v2.20h-34.00zM1131.24 638.8h34.00v3.90h-34.00zM1131.24 649.1h34.00v3.50h-34.00zM1131.24 654.2h34.00v1.80h-34.00zM1131.24 666.8h34.00v1.60h-34.00zM1131.24 669.9h34.00v3.60h-34.00zM1131.24 684.6h34.00v1.90h-34.00zM1131.24 698h34.00v1.50h-34.00zM1131.24 707.9h34.00v1.20h-34.00zM1131.24 710.9h34.00v1.80h-34.00zM1131.24 718.3h34.00v2.40h-34.00zM1131.24 723.3h34.00v1.80h-34.00zM1131.24 733h34.00v1.90h-34.00zM1131.24 742.8h34.00v1.60h-34.00zM1131.24 767.1h34.00v1.20h-34.00zM1131.24 774.8h34.00v1.20h-34.00zM1131.24 797.8h34.00v2.90h-34.00zM1131.24 811h34.00v2.70h-34.00zM1131.24 820.8h34.00v1.20h-34.00zM1131.24 850.8h34.00v1.60h-34.00zM1131.24 881.7h34.00v2.10h-34.00zM1131.24 891.4h34.00v1.50h-34.00zM1131.24 896.5h34.00v1.10h-34.00z" fill="#92D9F0" fill-opacity="0.75"/><path d="M1131.24 5.9h34.00v2.10h-34.00zM1131.24 10h34.00v3.00h-34.00zM1131.24 14.2h34.00v3.30h-34.00zM1131.24 22.7h34.00v2.70h-34.00zM1131.24 31.7h34.00v2.90h-34.00zM1131.24 36.9h34.00v2.10h-34.00zM1131.24 44.7h34.00v3.30h-34.00zM1131.24 93.1h34.00v2.90h-34.00zM1131.24 101.1h34.00v3.50h-34.00zM1131.24 114.9h34.00v2.70h-34.00zM1131.24 118.8h34.00v3.90h-34.00zM1131.24 132.7h34.00v3.10h-34.00zM1131.24 136.6h34.00v1.20h-34.00zM1131.24 146.9h34.00v0.90h-34.00zM1131.24 149.6h34.00v2.70h-34.00zM1131.24 156h34.00v1.80h-34.00zM1131.24 167.8h34.00v3.00h-34.00zM1131.24 172h34.00v3.50h-34.00zM1131.24 182h34.00v1.80h-34.00zM1131.24 198.6h34.00v3.00h-34.00zM1131.24 223.7h34.00v1.90h-34.00zM1131.24 233.5h34.00v2.50h-34.00zM1131.24 234h34.00v1.40h-34.00zM1131.24 247h34.00v2.60h-34.00zM1131.24 255.1h34.00v1.10h-34.00zM1131.24 287.3h34.00v1.40h-34.00zM1131.24 292h34.00v1.40h-34.00zM1131.24 295.3h34.00v2.00h-34.00zM1131.24 300h34.00v1.70h-34.00zM1131.24 312.7h34.00v1.30h-34.00zM1131.24 313h34.00v0.90h-34.00zM1131.24 322.9h34.00v0.90h-34.00zM1131.24 346.9h34.00v3.60h-34.00zM1131.24 421.7h34.00v1.70h-34.00zM1131.24 435.2h34.00v1.90h-34.00zM1131.24 453.9h34.00v1.40h-34.00zM1131.24 489.1h34.00v1.40h-34.00zM1131.24 491.9h34.00v1.90h-34.00zM1131.24 497h34.00v2.40h-34.00zM1131.24 501.1h34.00v2.40h-34.00zM1131.24 519.5h34.00v1.80h-34.00zM1131.24 531.3h34.00v2.40h-34.00zM1131.24 535.7h34.00v2.70h-34.00zM1131.24 545.5h34.00v1.50h-34.00zM1131.24 546h34.00v1.00h-34.00zM1131.24 548.1h34.00v3.60h-34.00zM1131.24 562.6h34.00v1.70h-34.00zM1131.24 567.9h34.00v1.50h-34.00zM1131.24 570.9h34.00v3.50h-34.00zM1131.24 580.9h34.00v1.50h-34.00zM1131.24 584.5h34.00v2.30h-34.00zM1131.24 590.7h34.00v1.50h-34.00zM1131.24 595.7h34.00v4.70h-34.00zM1131.24 610.1h34.00v2.80h-34.00zM1131.24 623.9h34.00v1.20h-34.00zM1131.24 624h34.00v1.00h-34.00zM1131.24 633.7h34.00v1.20h-34.00zM1131.24 644.1h34.00v1.80h-34.00zM1131.24 658.9h34.00v1.80h-34.00zM1131.24 662.8h34.00v1.70h-34.00zM1131.24 675.1h34.00v3.30h-34.00zM1131.24 687.9h34.00v3.00h-34.00zM1131.24 692.6h34.00v3.40h-34.00zM1131.24 700.9h34.00v3.10h-34.00zM1131.24 702h34.00v1.80h-34.00zM1131.24 714.1h34.00v2.70h-34.00zM1131.24 728h34.00v2.40h-34.00zM1131.24 736.3h34.00v2.60h-34.00zM1131.24 746h34.00v1.60h-34.00zM1131.24 755.8h34.00v1.80h-34.00zM1131.24 764.7h34.00v1.20h-34.00zM1131.24 785.9h34.00v2.60h-34.00zM1131.24 790.1h34.00v1.70h-34.00zM1131.24 793.6h34.00v2.00h-34.00zM1131.24 806.6h34.00v3.00h-34.00zM1131.24 816.4h34.00v2.10h-34.00zM1131.24 828.8h34.00v3.00h-34.00zM1131.24 833.5h34.00v3.30h-34.00zM1131.24 847.7h34.00v1.20h-34.00zM1131.24 854.8h34.00v2.70h-34.00zM1131.24 858.7h34.00v1.30h-34.00zM1131.24 858.9h34.00v2.10h-34.00zM1131.24 868.9h34.00v0.90h-34.00zM1131.24 872h34.00v2.80h-34.00zM1131.24 876.7h34.00v3.20h-34.00zM1131.24 885.5h34.00v3.00h-34.00zM1131.24 902.4h34.00v3.50h-34.00z" fill="#92D9F0" fill-opacity="0.97"/><path d="M1165.66 72.2h34.34v0.90h-34.34zM1165.66 74.3h34.34v0.80h-34.34zM1165.66 76.3h34.34v0.60h-34.34zM1165.66 301.7h34.34v1.20h-34.34zM1165.66 303.8h34.34v1.20h-34.34zM1165.66 306.8h34.34v0.60h-34.34zM1165.66 311.9h34.34v0.80h-34.34zM1165.66 442.7h34.34v1.10h-34.34zM1165.66 455.3h34.34v1.60h-34.34zM1165.66 531.9h34.34v1.00h-34.34zM1165.66 575h34.34v1.20h-34.34zM1165.66 578.2h34.34v1.20h-34.34zM1165.66 586.8h34.34v1.20h-34.34zM1165.66 634.9h34.34v0.90h-34.34zM1165.66 638h34.34v1.10h-34.34zM1165.66 658.1h34.34v0.80h-34.34zM1165.66 665.4h34.34v1.40h-34.34zM1165.66 668.4h34.34v1.50h-34.34zM1165.66 710.5h34.34v0.40h-34.34zM1165.66 712.7h34.34v1.40h-34.34zM1165.66 716.8h34.34v1.20h-34.34zM1165.66 752.9h34.34v0.60h-34.34zM1165.66 754.7h34.34v1.10h-34.34z" fill="#92DAC6" fill-opacity="0.18"/><path d="M1165.66 73.1h34.34v1.20h-34.34zM1165.66 296.5h34.34v1.20h-34.34zM1165.66 305h34.34v1.80h-34.34zM1165.66 307.4h34.34v1.20h-34.34zM1165.66 310.7h34.34v1.20h-34.34zM1165.66 320.5h34.34v1.20h-34.34zM1165.66 331.9h34.34v0.80h-34.34zM1165.66 372.1h34.34v0.80h-34.34zM1165.66 379.7h34.34v1.20h-34.34zM1165.66 441.5h34.34v1.20h-34.34zM1165.66 520.7h34.34v1.10h-34.34zM1165.66 530.7h34.34v1.20h-34.34zM1165.66 557.8h34.34v1.20h-34.34zM1165.66 567.9h34.34v1.20h-34.34zM1165.66 573h34.34v2.00h-34.34zM1165.66 588h34.34v1.80h-34.34zM1165.66 593.6h34.34v1.50h-34.34zM1165.66 602.2h34.34v1.60h-34.34zM1165.66 606.4h34.34v1.10h-34.34zM1165.66 616.1h34.34v1.50h-34.34zM1165.66 620h34.34v2.90h-34.34zM1165.66 629.3h34.34v1.20h-34.34zM1165.66 645.9h34.34v1.20h-34.34zM1165.66 656.9h34.34v1.20h-34.34zM1165.66 689.7h34.34v1.20h-34.34zM1165.66 701.5h34.34v1.20h-34.34zM1165.66 702h34.34v1.00h-34.34zM1165.66 705.3h34.34v1.20h-34.34zM1165.66 708.5h34.34v2.00h-34.34zM1165.66 718h34.34v1.50h-34.34zM1165.66 751.5h34.34v1.40h-34.34zM1165.66 753.5h34.34v1.20h-34.34zM1165.66 795.1h34.34v1.50h-34.34zM1165.66 826.2h34.34v1.40h-34.34z" fill="#92DAC6" fill-opacity="0.42"/><path d="M1165.66 71h34.34v1.20h-34.34zM1165.66 75.1h34.34v1.20h-34.34zM1165.66 76.9h34.34v1.80h-34.34zM1165.66 78h34.34v0.60h-34.34zM1165.66 161.9h34.34v1.00h-34.34zM1165.66 223.7h34.34v3.10h-34.34zM1165.66 300h34.34v1.70h-34.34zM1165.66 302.9h34.34v0.90h-34.34zM1165.66 312.7h34.34v1.30h-34.34zM1165.66 313h34.34v0.90h-34.34zM1165.66 335.9h34.34v1.00h-34.34zM1165.66 343.4h34.34v2.00h-34.34zM1165.66 348.4h34.34v2.10h-34.34zM1165.66 374.5h34.34v1.40h-34.34zM1165.66 443.8h34.34v1.20h-34.34zM1165.66 453.9h34.34v1.40h-34.34zM1165.66 532.9h34.34v1.10h-34.34zM1165.66 576.2h34.34v2.00h-34.34zM1165.66 633.7h34.34v1.20h-34.34zM1165.66 635.8h34.34v2.20h-34.34zM1165.66 639.1h34.34v3.60h-34.34zM1165.66 648.9h34.34v1.10h-34.34zM1165.66 658.9h34.34v1.20h-34.34zM1165.66 664h34.34v1.40h-34.34zM1165.66 666.8h34.34v1.60h-34.34zM1165.66 669.9h34.34v3.60h-34.34zM1165.66 684.6h34.34v1.90h-34.34zM1165.66 698h34.34v1.50h-34.34z" fill="#92DAC6" fill-opacity="0.75"/><path d="M1165.66 228.8h34.34v2.30h-34.34zM1165.66 339h34.34v2.60h-34.34zM1165.66 449.2h34.34v2.10h-34.34zM1165.66 456.9h34.34v2.70h-34.34zM1165.66 536h34.34v2.80h-34.34zM1165.66 540.8h34.34v2.90h-34.34zM1165.66 549.3h34.34v2.00h-34.34zM1165.66 579.4h34.34v2.30h-34.34zM1165.66 584.5h34.34v2.30h-34.34zM1165.66 597.1h34.34v2.70h-34.34zM1165.66 610.1h34.34v2.80h-34.34zM1165.66 675.1h34.34v3.30h-34.34zM1165.66 710.9h34.34v1.80h-34.34zM1165.66 714.1h34.34v2.70h-34.34zM1165.66 736.9h34.34v2.00h-34.34zM1165.66 755.8h34.34v1.20h-34.34z" fill="#92DAC6" fill-opacity="0.97"/><rect x="629.1" y="1.3" width="3.3" height="219.20" fill="#000"/><rect x="629.1" y="221.5" width="3.3" height="7.80" fill="#000"/><rect x="629.1" y="230.5" width="3.3" height="37.40" fill="#000"/><rect x="629.1" y="268.5" width="3.3" height="22.50" fill="#000"/><rect x="629.1" y="291.5" width="3.3" height="54.50" fill="#000"/><rect x="629.1" y="346.5" width="3.3" height="22.00" fill="#000"/><rect x="629.1" y="369" width="3.3" height="16.30" fill="#000"/><rect x="629.1" y="386" width="3.3" height="54.00" fill="#000"/><rect x="629.1" y="449.2" width="3.3" height="7.80" fill="#000"/><rect x="629.1" y="464.2" width="3.3" height="19.40" fill="#000"/><rect x="629.1" y="485.2" width="3.3" height="26.80" fill="#000"/><rect x="629.1" y="525.5" width="3.3" height="191.40" fill="#000"/><rect x="629.1" y="717.5" width="3.3" height="15.00" fill="#000"/><rect x="629.1" y="733" width="3.3" height="42.50" fill="#000"/><rect x="629.1" y="781.3" width="3.3" height="39.00" fill="#000"/><rect x="629.1" y="823.7" width="3.3" height="13.90" fill="#000"/><rect x="629.1" y="846.2" width="3.3" height="61.60" fill="#000"/><g style="will-change:transform"><text x="637" y="119.9" font-size="26.2" fill="#000">Coenagrionidae</text><text x="637" y="234.1" font-size="26.2" fill="#000">Pseudostigmatidae</text><text x="637" y="261.1" font-size="26.2" fill="#000">Platycnemididae</text><text x="637" y="288.6" font-size="26.2" fill="#000">Protoneuridae</text><text x="637" y="327.9" font-size="26.2" fill="#000">Calopterygidae</text><text x="637" y="363.2" font-size="26.2" fill="#000">Chlorocyphidae</text><text x="637" y="386" font-size="26.2" fill="#000">Euphaeidae</text><text x="637" y="421.6" font-size="26.2" fill="#000">Megapodagrionidae</text><text x="637" y="461.3" font-size="26.2" fill="#000">Polythoridae</text><text x="637" y="485.3" font-size="26.2" fill="#000">Platystictidae</text><text x="637" y="509.9" font-size="26.2" fill="#000">Lestidae</text><text x="637" y="630" font-size="26.2" fill="#000">Libellulidae</text><text x="637" y="733.4" font-size="26.2" fill="#000">Macromiidae</text><text x="637" y="762.4" font-size="26.2" fill="#000">Corduliidae</text><text x="637" y="809.4" font-size="26.2" fill="#000">Aeshnidae</text><text x="637" y="839.5" font-size="26.2" fill="#000">Cordulegastridae</text><text x="637" y="885.5" font-size="26.2" fill="#000">Gomphidae</text><text x="0" y="0" font-size="20.4" text-anchor="end" transform="translate(916.30,934.3) rotate(-45)" fill="#000">body_colors</text><text x="0" y="0" font-size="20.4" text-anchor="end" transform="translate(950.55,934.3) rotate(-45)" fill="#000">mate_guarding</text><text x="0" y="0" font-size="20.4" text-anchor="end" transform="translate(984.80,934.3) rotate(-45)" fill="#000">flight_mode</text><text x="0" y="0" font-size="20.4" text-anchor="end" transform="translate(1019.05,934.3) rotate(-45)" fill="#000">territoriality</text><text x="0" y="0" font-size="20.4" text-anchor="end" transform="translate(1053.30,934.3) rotate(-45)" fill="#000">aquatic_habitats</text><text x="0" y="0" font-size="20.4" text-anchor="end" transform="translate(1087.55,934.3) rotate(-45)" fill="#000">sex_dimorphisms</text><text x="0" y="0" font-size="20.4" text-anchor="end" transform="translate(1121.80,934.3) rotate(-45)" fill="#000">body_lengths</text><text x="0" y="0" font-size="20.4" text-anchor="end" transform="translate(1156.05,934.3) rotate(-45)" fill="#000">hindwing_lengths</text><text x="0" y="0" font-size="20.4" text-anchor="end" transform="translate(1190.30,934.3) rotate(-45)" fill="#000">has_wing_pigment</text></g></svg></body></html>
